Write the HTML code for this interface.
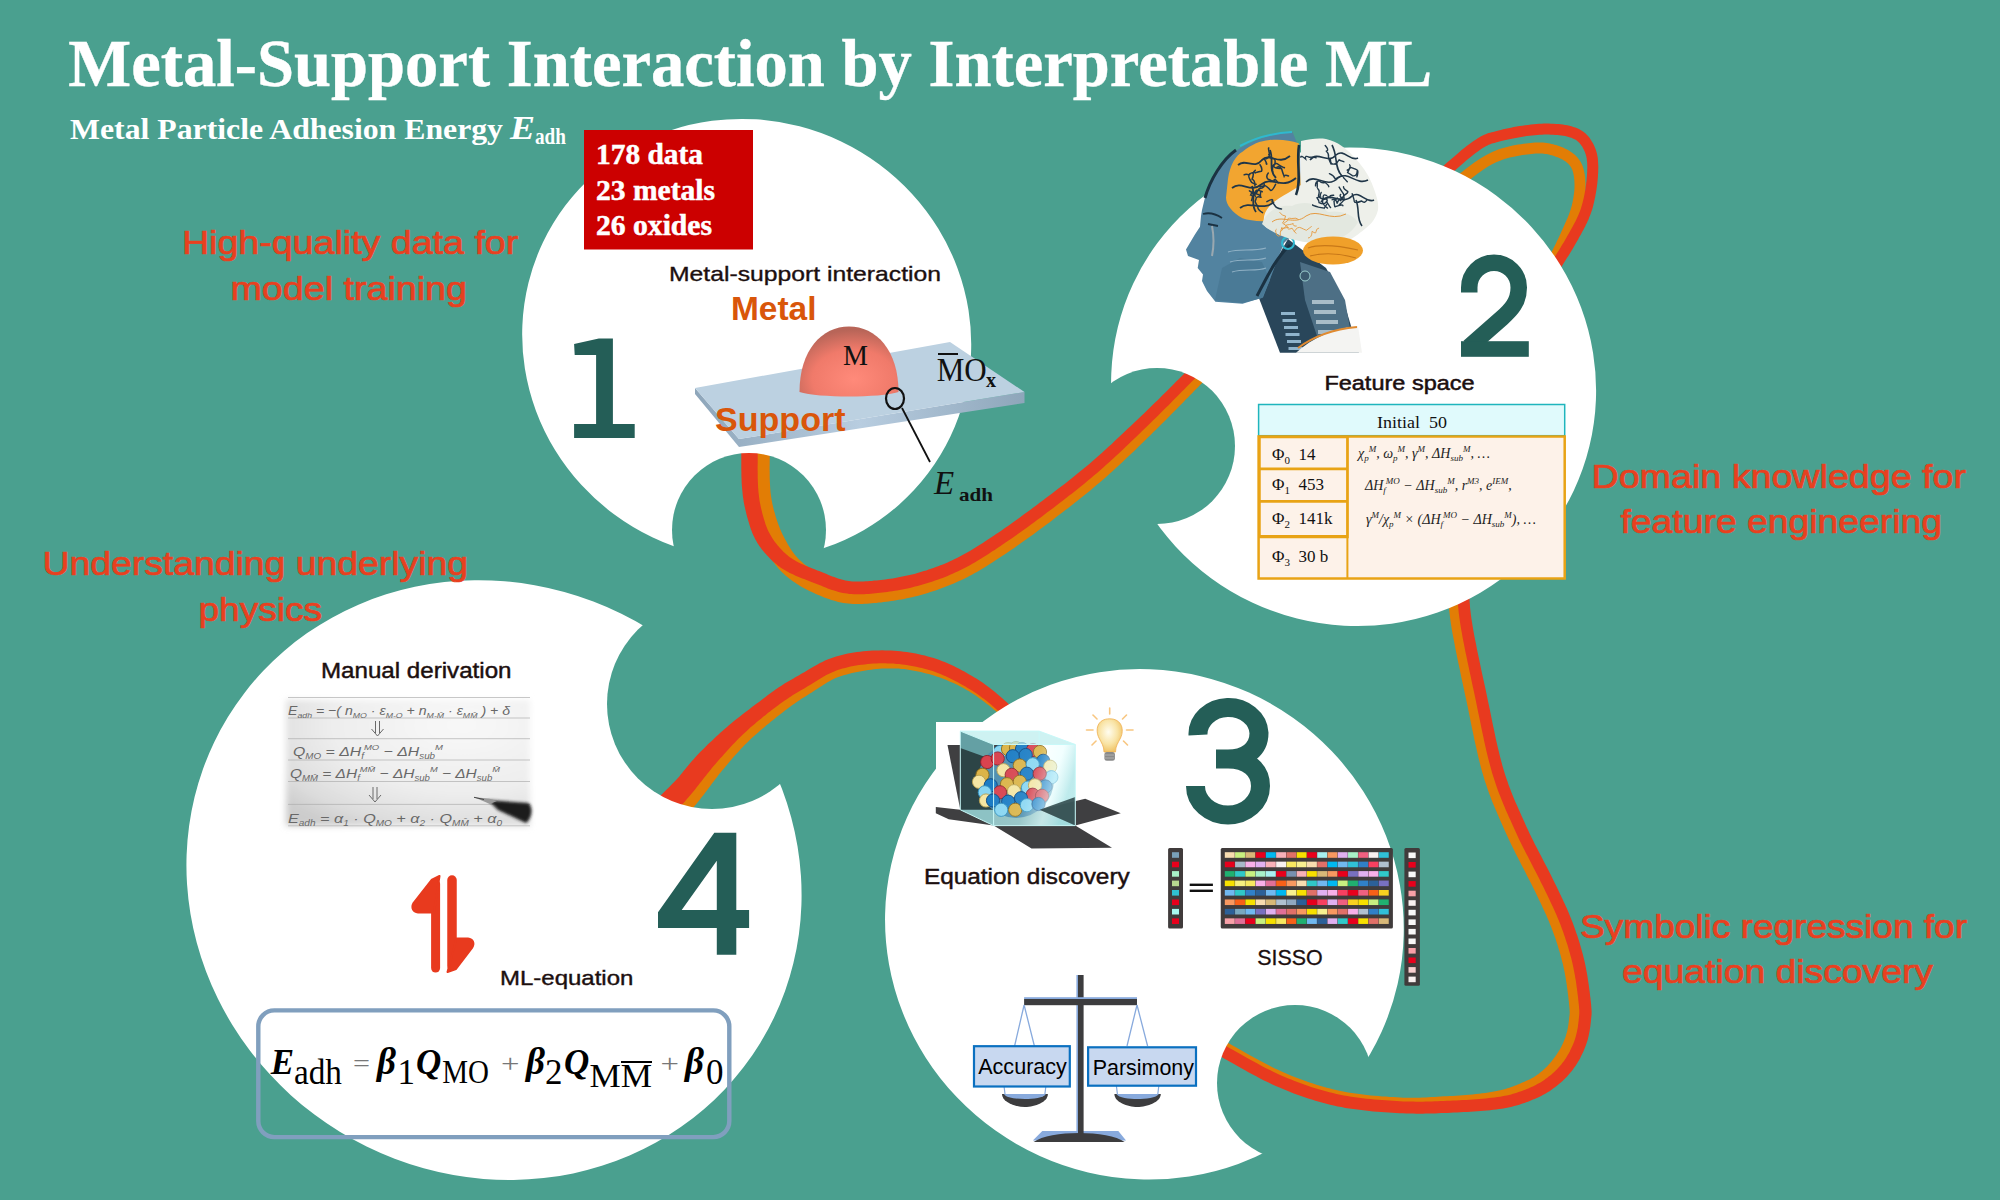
<!DOCTYPE html>
<html><head><meta charset="utf-8"><title>Metal-Support Interaction by Interpretable ML</title>
<style>
html,body{margin:0;padding:0;width:2000px;height:1200px;overflow:hidden;background:#4aa08f;}
svg{position:absolute;left:0;top:0;display:block;}
</style></head><body>
<svg width="2000" height="1200" viewBox="0 0 2000 1200">
<defs><mask id="m0" maskUnits="userSpaceOnUse" x="0" y="0" width="2000" height="1200"><ellipse cx="746.7" cy="339.4" rx="225.7" ry="219.3" transform="rotate(25.5 746.7 339.4)" fill="#fff"/><circle cx="749" cy="530" r="77" fill="#000"/></mask><mask id="m1" maskUnits="userSpaceOnUse" x="0" y="0" width="2000" height="1200"><ellipse cx="1353.6" cy="386.8" rx="243.4" ry="238.4" transform="rotate(25.2 1353.6 386.8)" fill="#fff"/><circle cx="1157" cy="446" r="78" fill="#000"/></mask><mask id="m2" maskUnits="userSpaceOnUse" x="0" y="0" width="2000" height="1200"><ellipse cx="1144.4" cy="924.3" rx="260.4" ry="254.2" transform="rotate(24.3 1144.4 924.3)" fill="#fff"/><circle cx="1295" cy="1083" r="78" fill="#000"/></mask><mask id="m3" maskUnits="userSpaceOnUse" x="0" y="0" width="2000" height="1200"><ellipse cx="494.0" cy="880.1" rx="312.1" ry="295.2" transform="rotate(31.5 494.0 880.1)" fill="#fff"/><circle cx="712" cy="704" r="105" fill="#000"/></mask></defs>
<rect x="0" y="0" width="2000" height="1200" fill="#4aa08f"/>
<path d="M769.8,440.0 L769.8,442.8 L769.8,445.8 L769.8,448.8 L769.8,451.8 L769.7,454.8 L769.7,457.8 L769.7,460.7 L769.7,463.7 L769.6,466.6 L769.6,469.4 L769.7,472.2 L769.7,474.9 L769.7,477.4 L769.8,479.9 L769.9,482.2 L770.0,484.3 L770.1,486.4 L770.2,488.3 L770.4,490.2 L770.5,491.9 L770.7,493.5 L770.9,495.0 L771.1,496.4 L771.3,497.8 L771.5,499.1 L771.7,500.4 L772.0,501.8 L772.2,503.1 L772.5,504.5 L772.9,505.9 L773.2,507.4 L773.6,509.0 L774.0,510.7 L774.5,512.3 L775.0,513.9 L775.4,515.6 L775.9,517.3 L776.5,518.9 L777.0,520.6 L777.6,522.2 L778.2,523.9 L778.8,525.5 L779.4,527.1 L780.0,528.7 L780.7,530.2 L781.3,531.7 L782.0,533.2 L782.7,534.7 L783.5,536.2 L784.3,537.7 L785.0,539.2 L785.8,540.6 L786.6,542.1 L787.4,543.5 L788.2,544.9 L789.0,546.3 L789.8,547.6 L790.7,549.0 L791.5,550.2 L792.4,551.5 L793.3,552.7 L794.2,553.9 L795.1,555.1 L796.0,556.2 L797.0,557.3 L798.1,558.4 L799.1,559.5 L800.2,560.6 L801.4,561.6 L802.5,562.6 L803.7,563.7 L805.0,564.7 L806.2,565.6 L807.6,566.6 L808.9,567.6 L810.3,568.5 L811.8,569.5 L813.3,570.4 L814.8,571.4 L816.4,572.3 L818.1,573.2 L819.9,574.2 L821.6,575.1 L823.5,576.0 L825.3,576.9 L827.2,577.8 L829.2,578.7 L831.1,579.5 L833.1,580.3 L835.0,581.0 L837.0,581.7 L838.9,582.3 L840.9,582.9 L842.8,583.4 L844.7,583.8 L846.5,584.1 L848.3,584.4 L850.2,584.6 L852.1,584.8 L854.0,584.9 L855.9,585.0 L857.8,585.0 L859.8,585.0 L861.8,585.0 L863.8,584.9 L865.8,584.8 L867.9,584.6 L870.1,584.4 L872.3,584.2 L874.5,584.0 L876.7,583.8 L879.0,583.6 L881.3,583.3 L883.6,583.0 L886.0,582.7 L888.4,582.4 L890.8,582.0 L893.2,581.6 L895.6,581.2 L898.1,580.8 L900.5,580.3 L903.0,579.9 L905.4,579.3 L907.9,578.8 L910.3,578.2 L912.8,577.6 L915.2,577.0 L917.6,576.3 L920.0,575.6 L922.4,574.9 L924.8,574.2 L927.2,573.4 L929.7,572.6 L932.1,571.8 L934.5,571.0 L936.9,570.1 L939.3,569.2 L941.7,568.2 L944.1,567.3 L946.5,566.3 L948.9,565.2 L951.3,564.2 L953.7,563.1 L956.1,561.9 L958.4,560.7 L960.8,559.5 L963.1,558.3 L965.4,557.0 L967.7,555.7 L970.0,554.4 L972.3,553.0 L974.7,551.6 L977.1,550.2 L979.5,548.7 L981.9,547.1 L984.4,545.5 L987.0,543.8 L989.6,542.1 L992.2,540.3 L995.0,538.5 L997.8,536.6 L1000.7,534.7 L1003.6,532.6 L1006.6,530.6 L1009.7,528.4 L1012.8,526.2 L1015.9,524.0 L1019.1,521.7 L1022.3,519.4 L1025.5,517.1 L1028.7,514.7 L1031.9,512.3 L1035.1,510.0 L1038.3,507.6 L1041.4,505.2 L1044.6,502.8 L1047.7,500.5 L1050.8,498.1 L1053.9,495.7 L1057.0,493.3 L1060.1,490.9 L1063.2,488.5 L1066.3,486.1 L1069.4,483.6 L1072.5,481.2 L1075.6,478.7 L1078.7,476.2 L1081.8,473.6 L1084.9,471.1 L1087.9,468.5 L1091.0,465.9 L1094.1,463.2 L1097.2,460.5 L1100.3,457.7 L1103.5,454.8 L1106.7,451.9 L1109.9,448.9 L1113.1,445.9 L1116.3,442.9 L1119.5,439.9 L1122.7,436.8 L1125.9,433.8 L1129.0,430.8 L1132.1,427.8 L1135.1,424.9 L1138.1,422.0 L1140.9,419.2 L1143.7,416.5 L1146.4,413.9 L1149.1,411.3 L1151.7,408.8 L1154.3,406.2 L1156.8,403.7 L1159.2,401.3 L1161.7,398.8 L1164.0,396.4 L1166.4,394.1 L1168.7,391.7 L1170.9,389.4 L1173.1,387.2 L1175.3,385.0 L1177.5,382.8 L1179.6,380.7 L1181.6,378.6 L1183.6,376.6 L1185.5,374.7 L1187.4,372.9 L1189.2,371.1 L1190.9,369.4 L1192.6,367.7 L1194.2,366.1 L1195.8,364.4 L1197.4,362.9 L1199.0,361.3 L1200.6,359.7 L1202.1,358.1 L1203.7,356.5 L1205.3,354.9 L1207.0,353.3 L1208.6,351.6 L1221.0,364.0 L1219.3,365.7 L1217.7,367.3 L1216.1,368.9 L1214.5,370.5 L1213.0,372.1 L1211.4,373.7 L1209.8,375.2 L1208.2,376.8 L1206.6,378.5 L1205.0,380.1 L1203.3,381.8 L1201.6,383.5 L1199.8,385.3 L1198.0,387.2 L1196.1,389.1 L1194.1,391.1 L1192.1,393.2 L1190.0,395.3 L1187.9,397.4 L1185.7,399.6 L1183.5,401.9 L1181.3,404.2 L1179.0,406.5 L1176.7,408.9 L1174.3,411.3 L1171.8,413.8 L1169.4,416.3 L1166.8,418.9 L1164.2,421.5 L1161.6,424.1 L1158.9,426.7 L1156.2,429.4 L1153.4,432.1 L1150.6,434.9 L1147.6,437.8 L1144.6,440.8 L1141.5,443.8 L1138.4,446.8 L1135.2,449.9 L1132.0,453.0 L1128.8,456.1 L1125.5,459.1 L1122.3,462.2 L1119.0,465.3 L1115.7,468.3 L1112.5,471.2 L1109.3,474.1 L1106.1,477.0 L1102.9,479.7 L1099.7,482.4 L1096.6,485.1 L1093.4,487.8 L1090.3,490.4 L1087.1,493.0 L1084.0,495.5 L1080.8,498.0 L1077.7,500.5 L1074.5,503.0 L1071.4,505.5 L1068.3,507.9 L1065.1,510.3 L1062.0,512.7 L1058.9,515.1 L1055.7,517.5 L1052.6,519.9 L1049.4,522.4 L1046.2,524.8 L1042.9,527.2 L1039.7,529.6 L1036.4,532.0 L1033.2,534.4 L1029.9,536.7 L1026.7,539.0 L1023.5,541.3 L1020.4,543.5 L1017.2,545.7 L1014.2,547.9 L1011.1,550.0 L1008.2,552.0 L1005.3,553.9 L1002.5,555.8 L999.8,557.6 L997.1,559.3 L994.5,561.1 L991.9,562.7 L989.4,564.3 L986.8,565.9 L984.4,567.5 L981.9,569.0 L979.4,570.5 L976.9,571.9 L974.4,573.3 L971.9,574.7 L969.4,576.0 L966.8,577.4 L964.2,578.7 L961.6,579.9 L959.0,581.1 L956.4,582.3 L953.8,583.5 L951.2,584.6 L948.6,585.6 L946.0,586.6 L943.4,587.6 L940.8,588.6 L938.2,589.5 L935.6,590.4 L933.0,591.3 L930.4,592.1 L927.8,592.9 L925.2,593.7 L922.6,594.4 L920.0,595.2 L917.4,595.9 L914.7,596.5 L912.1,597.2 L909.4,597.8 L906.8,598.3 L904.1,598.9 L901.5,599.4 L898.8,599.8 L896.2,600.3 L893.6,600.7 L891.1,601.1 L888.5,601.5 L886.0,601.8 L883.5,602.1 L881.1,602.4 L878.7,602.6 L876.4,602.9 L874.0,603.1 L871.7,603.3 L869.4,603.5 L867.1,603.7 L864.7,603.8 L862.4,603.9 L860.1,604.0 L857.7,604.0 L855.3,604.0 L853.0,603.9 L850.6,603.7 L848.2,603.5 L845.8,603.2 L843.3,602.9 L840.9,602.4 L838.4,601.9 L836.0,601.3 L833.6,600.6 L831.2,599.9 L828.9,599.1 L826.5,598.3 L824.2,597.4 L822.0,596.6 L819.8,595.6 L817.6,594.7 L815.4,593.8 L813.4,592.8 L811.3,591.8 L809.4,590.9 L807.5,589.9 L805.6,588.9 L803.7,587.9 L801.9,586.9 L800.1,585.9 L798.3,584.8 L796.6,583.7 L794.9,582.6 L793.2,581.4 L791.5,580.3 L789.9,579.0 L788.3,577.8 L786.8,576.5 L785.2,575.2 L783.7,573.8 L782.3,572.4 L780.8,571.0 L779.4,569.5 L778.0,567.9 L776.7,566.3 L775.4,564.7 L774.2,563.1 L773.0,561.5 L771.8,559.8 L770.7,558.1 L769.7,556.4 L768.6,554.7 L767.6,553.0 L766.7,551.3 L765.7,549.6 L764.8,547.9 L763.9,546.2 L763.0,544.4 L762.2,542.7 L761.3,540.8 L760.5,539.0 L759.7,537.1 L758.9,535.2 L758.2,533.3 L757.5,531.4 L756.8,529.5 L756.2,527.6 L755.5,525.7 L754.9,523.8 L754.4,521.9 L753.8,520.0 L753.3,518.1 L752.8,516.3 L752.3,514.5 L751.9,512.7 L751.5,511.0 L751.1,509.3 L750.7,507.7 L750.4,506.0 L750.1,504.4 L749.8,502.7 L749.5,501.1 L749.3,499.3 L749.0,497.6 L748.8,495.8 L748.6,493.9 L748.5,492.0 L748.3,490.0 L748.2,487.8 L748.0,485.6 L747.9,483.1 L747.8,480.5 L747.7,477.9 L747.7,475.1 L747.7,472.3 L747.6,469.5 L747.6,466.5 L747.7,463.6 L747.7,460.6 L747.7,457.6 L747.7,454.6 L747.8,451.6 L747.8,448.6 L747.8,445.7 L747.8,442.8 L747.8,440.0 Z" fill="#e27d05"/>
<path d="M757.8,440.0 L757.8,442.8 L757.8,445.7 L757.8,448.7 L757.8,451.7 L757.7,454.7 L757.7,457.7 L757.7,460.7 L757.7,463.6 L757.6,466.6 L757.6,469.4 L757.7,472.3 L757.7,475.0 L757.7,477.7 L757.8,480.2 L757.9,482.7 L758.0,485.0 L758.1,487.2 L758.3,489.2 L758.4,491.2 L758.6,493.0 L758.8,494.7 L759.0,496.4 L759.2,498.0 L759.4,499.6 L759.6,501.1 L759.9,502.6 L760.2,504.1 L760.5,505.6 L760.8,507.1 L761.2,508.7 L761.6,510.3 L762.0,512.0 L762.4,513.7 L762.9,515.5 L763.4,517.2 L763.9,519.0 L764.5,520.8 L765.0,522.6 L765.6,524.4 L766.3,526.2 L767.0,527.9 L767.7,529.7 L768.5,531.4 L769.4,533.1 L770.3,534.7 L771.2,536.3 L772.2,537.9 L773.2,539.4 L774.2,540.9 L775.3,542.4 L776.4,543.8 L777.5,545.3 L778.7,546.6 L779.9,548.0 L781.1,549.3 L782.3,550.6 L783.6,551.9 L784.9,553.1 L786.2,554.2 L787.5,555.3 L788.8,556.4 L790.2,557.4 L791.5,558.3 L792.9,559.2 L794.3,560.1 L795.8,560.9 L797.2,561.7 L798.6,562.4 L800.1,563.2 L801.6,563.9 L803.1,564.6 L804.6,565.2 L806.1,565.9 L807.6,566.5 L809.2,567.2 L810.8,567.8 L812.4,568.4 L814.0,569.1 L815.7,569.7 L817.4,570.4 L819.2,571.1 L821.0,571.8 L822.8,572.6 L824.7,573.3 L826.6,574.1 L828.5,574.9 L830.4,575.7 L832.3,576.4 L834.2,577.1 L836.1,577.8 L838.0,578.4 L839.9,579.0 L841.7,579.5 L843.6,580.0 L845.3,580.4 L847.1,580.7 L848.8,581.0 L850.6,581.2 L852.3,581.4 L854.1,581.5 L856.0,581.5 L857.8,581.6 L859.7,581.6 L861.6,581.5 L863.6,581.5 L865.6,581.3 L867.7,581.2 L869.8,581.0 L871.9,580.9 L874.1,580.6 L876.4,580.4 L878.7,580.2 L880.9,579.9 L883.2,579.7 L885.5,579.4 L887.9,579.1 L890.3,578.7 L892.7,578.4 L895.1,578.0 L897.5,577.5 L899.9,577.1 L902.3,576.6 L904.7,576.1 L907.2,575.6 L909.6,575.0 L912.0,574.5 L914.3,573.9 L916.7,573.2 L919.1,572.5 L921.5,571.8 L923.9,571.1 L926.3,570.4 L928.6,569.6 L931.0,568.8 L933.4,568.0 L935.8,567.1 L938.1,566.2 L940.5,565.3 L942.9,564.4 L945.2,563.4 L947.6,562.4 L950.0,561.3 L952.3,560.2 L954.7,559.1 L957.0,558.0 L959.3,556.8 L961.6,555.6 L963.9,554.3 L966.2,553.1 L968.5,551.8 L970.8,550.4 L973.1,549.0 L975.5,547.6 L977.8,546.1 L980.3,544.6 L982.8,543.0 L985.3,541.3 L987.9,539.6 L990.6,537.8 L993.3,536.0 L996.1,534.1 L999.0,532.2 L1001.9,530.2 L1004.9,528.1 L1008.0,526.0 L1011.1,523.8 L1014.2,521.5 L1017.4,519.3 L1020.5,517.0 L1023.7,514.6 L1026.9,512.3 L1030.1,509.9 L1033.3,507.6 L1036.5,505.2 L1039.6,502.8 L1042.8,500.5 L1045.9,498.1 L1049.0,495.8 L1052.1,493.4 L1055.2,491.0 L1058.4,488.6 L1061.5,486.3 L1064.6,483.9 L1067.7,481.4 L1070.8,479.0 L1073.9,476.5 L1076.9,474.1 L1080.0,471.6 L1083.1,469.0 L1086.2,466.5 L1089.3,463.9 L1092.4,461.2 L1095.5,458.6 L1098.6,455.8 L1101.8,453.0 L1105.0,450.1 L1108.2,447.1 L1111.5,444.2 L1114.7,441.1 L1117.9,438.1 L1121.1,435.1 L1124.3,432.1 L1127.4,429.1 L1130.5,426.2 L1133.6,423.3 L1136.5,420.5 L1139.4,417.7 L1142.3,415.0 L1145.0,412.4 L1147.7,409.8 L1150.3,407.3 L1152.8,404.8 L1155.4,402.3 L1157.9,399.9 L1160.3,397.5 L1162.7,395.1 L1165.1,392.7 L1167.4,390.4 L1169.6,388.2 L1171.9,385.9 L1174.1,383.8 L1176.2,381.6 L1178.4,379.5 L1180.4,377.4 L1182.4,375.5 L1184.4,373.6 L1186.2,371.7 L1188.0,370.0 L1189.8,368.3 L1191.5,366.6 L1193.1,365.0 L1194.7,363.4 L1196.3,361.8 L1197.9,360.2 L1199.5,358.6 L1201.1,357.1 L1202.7,355.5 L1204.3,353.9 L1205.9,352.2 L1207.6,350.6 L1215.2,358.2 L1213.5,359.9 L1211.9,361.5 L1210.3,363.1 L1208.7,364.7 L1207.1,366.3 L1205.6,367.9 L1204.0,369.4 L1202.4,371.0 L1200.8,372.6 L1199.1,374.3 L1197.5,376.0 L1195.7,377.7 L1194.0,379.5 L1192.1,381.3 L1190.2,383.2 L1188.2,385.2 L1186.2,387.3 L1184.1,389.4 L1181.9,391.5 L1179.8,393.7 L1177.6,396.0 L1175.3,398.3 L1173.0,400.6 L1170.7,403.0 L1168.3,405.4 L1165.8,407.8 L1163.3,410.3 L1160.8,412.8 L1158.2,415.4 L1155.6,418.0 L1152.9,420.6 L1150.2,423.2 L1147.4,425.9 L1144.5,428.7 L1141.6,431.6 L1138.6,434.5 L1135.5,437.5 L1132.3,440.5 L1129.2,443.5 L1126.0,446.6 L1122.7,449.7 L1119.5,452.7 L1116.2,455.7 L1113.0,458.8 L1109.7,461.7 L1106.5,464.6 L1103.3,467.5 L1100.2,470.2 L1097.1,472.9 L1093.9,475.6 L1090.8,478.2 L1087.7,480.8 L1084.6,483.4 L1081.4,485.9 L1078.3,488.4 L1075.2,490.9 L1072.1,493.4 L1068.9,495.8 L1065.8,498.3 L1062.7,500.7 L1059.6,503.1 L1056.4,505.5 L1053.3,507.9 L1050.2,510.2 L1047.0,512.6 L1043.9,515.0 L1040.7,517.4 L1037.4,519.8 L1034.2,522.2 L1031.0,524.6 L1027.8,526.9 L1024.6,529.2 L1021.4,531.5 L1018.2,533.8 L1015.1,536.0 L1012.0,538.2 L1008.9,540.3 L1005.9,542.3 L1003.0,544.3 L1000.2,546.2 L997.4,548.1 L994.7,549.9 L992.0,551.6 L989.5,553.3 L986.9,554.9 L984.4,556.5 L982.0,558.1 L979.5,559.6 L977.1,561.0 L974.7,562.4 L972.3,563.8 L969.9,565.2 L967.5,566.5 L965.1,567.8 L962.6,569.0 L960.1,570.3 L957.6,571.5 L955.1,572.6 L952.6,573.8 L950.1,574.8 L947.6,575.9 L945.1,576.9 L942.6,577.9 L940.1,578.8 L937.6,579.7 L935.1,580.6 L932.6,581.5 L930.1,582.3 L927.6,583.1 L925.1,583.8 L922.6,584.6 L920.1,585.3 L917.6,586.0 L915.0,586.6 L912.5,587.3 L909.9,587.9 L907.4,588.4 L904.8,589.0 L902.3,589.5 L899.7,590.0 L897.2,590.4 L894.7,590.8 L892.2,591.2 L889.7,591.6 L887.2,591.9 L884.8,592.2 L882.4,592.5 L880.0,592.8 L877.7,593.0 L875.4,593.3 L873.1,593.5 L870.9,593.7 L868.6,593.9 L866.4,594.0 L864.2,594.2 L862.1,594.3 L859.9,594.3 L857.8,594.3 L855.6,594.3 L853.5,594.2 L851.3,594.1 L849.2,593.9 L847.1,593.6 L844.9,593.3 L842.8,592.9 L840.6,592.4 L838.5,591.9 L836.3,591.3 L834.1,590.6 L832.0,589.9 L829.8,589.2 L827.7,588.4 L825.6,587.5 L823.5,586.7 L821.4,585.8 L819.4,585.0 L817.4,584.2 L815.4,583.4 L813.4,582.7 L811.5,581.9 L809.6,581.2 L807.8,580.5 L805.9,579.8 L804.1,579.1 L802.3,578.4 L800.5,577.7 L798.7,576.9 L796.9,576.2 L795.1,575.4 L793.3,574.6 L791.6,573.8 L789.8,572.9 L788.1,572.0 L786.3,571.0 L784.6,570.0 L782.9,569.0 L781.2,567.9 L779.5,566.7 L777.8,565.4 L776.2,564.1 L774.6,562.8 L773.0,561.4 L771.5,560.0 L770.0,558.6 L768.6,557.1 L767.1,555.6 L765.8,554.1 L764.4,552.5 L763.2,551.0 L761.9,549.4 L760.7,547.8 L759.5,546.2 L758.4,544.5 L757.2,542.7 L756.2,540.8 L755.1,539.0 L754.2,537.1 L753.3,535.2 L752.4,533.2 L751.7,531.3 L750.9,529.3 L750.3,527.4 L749.7,525.4 L749.1,523.5 L748.5,521.5 L747.9,519.6 L747.4,517.7 L746.9,515.9 L746.4,514.0 L746.0,512.3 L745.6,510.6 L745.2,508.9 L744.8,507.1 L744.4,505.4 L744.1,503.7 L743.7,501.9 L743.5,500.1 L743.2,498.3 L742.9,496.4 L742.7,494.5 L742.5,492.5 L742.3,490.4 L742.1,488.2 L741.9,485.9 L741.7,483.4 L741.6,480.7 L741.5,478.0 L741.4,475.2 L741.4,472.4 L741.3,469.5 L741.3,466.5 L741.3,463.5 L741.3,460.5 L741.3,457.5 L741.3,454.5 L741.3,451.5 L741.3,448.6 L741.3,445.7 L741.3,442.8 L741.3,440.0 Z" fill="#e83a1f"/>
<path d="M1448.3,196.4 L1451.2,194.3 L1454.2,192.0 L1457.2,189.7 L1460.2,187.3 L1463.2,185.0 L1466.1,182.6 L1469.1,180.3 L1472.0,178.0 L1474.9,175.8 L1477.8,173.6 L1480.7,171.6 L1483.5,169.6 L1486.2,167.8 L1488.9,166.1 L1491.6,164.6 L1494.1,163.2 L1496.7,162.0 L1499.3,160.9 L1501.9,159.9 L1504.5,159.1 L1507.2,158.3 L1509.8,157.6 L1512.4,156.9 L1515.0,156.4 L1517.5,155.9 L1520.0,155.5 L1522.5,155.1 L1524.9,154.8 L1527.2,154.5 L1529.5,154.2 L1531.7,154.0 L1533.8,153.8 L1535.7,153.6 L1537.5,153.5 L1539.2,153.5 L1540.7,153.5 L1542.3,153.6 L1543.7,153.7 L1545.1,153.9 L1546.4,154.1 L1547.7,154.3 L1549.0,154.6 L1550.3,154.9 L1551.5,155.2 L1552.7,155.6 L1554.0,156.0 L1555.2,156.4 L1556.4,156.9 L1557.6,157.3 L1558.7,157.8 L1559.8,158.3 L1560.9,158.8 L1561.9,159.3 L1562.9,159.8 L1563.9,160.4 L1564.8,161.0 L1565.7,161.6 L1566.5,162.3 L1567.3,162.9 L1568.0,163.6 L1568.7,164.3 L1569.4,165.0 L1569.9,165.7 L1570.5,166.4 L1570.9,167.1 L1571.4,167.9 L1571.8,168.8 L1572.2,169.6 L1572.5,170.6 L1572.8,171.6 L1573.1,172.6 L1573.4,173.7 L1573.6,174.8 L1573.8,175.9 L1574.0,177.1 L1574.1,178.4 L1574.3,179.6 L1574.4,180.9 L1574.4,182.2 L1574.5,183.5 L1574.5,184.8 L1574.5,186.1 L1574.5,187.5 L1574.4,188.9 L1574.3,190.3 L1574.2,191.8 L1574.0,193.2 L1573.8,194.7 L1573.6,196.3 L1573.4,197.8 L1573.1,199.3 L1572.8,200.8 L1572.5,202.4 L1572.1,203.9 L1571.8,205.4 L1571.4,206.9 L1571.0,208.3 L1570.6,209.7 L1570.1,211.1 L1569.6,212.5 L1569.1,213.9 L1568.6,215.2 L1568.1,216.6 L1567.5,218.1 L1566.8,219.5 L1566.2,221.0 L1565.5,222.5 L1564.8,224.1 L1564.1,225.7 L1563.3,227.4 L1562.5,229.2 L1561.7,231.0 L1560.8,232.9 L1559.9,234.9 L1559.0,236.9 L1558.0,238.9 L1557.0,241.0 L1556.0,243.2 L1554.9,245.4 L1553.8,247.6 L1552.7,249.9 L1551.6,252.1 L1550.5,254.4 L1549.4,256.7 L1548.3,258.9 L1547.2,261.2 L1546.1,263.4 L1545.0,265.6 L1555.0,270.4 L1556.0,268.2 L1557.1,266.0 L1558.2,263.8 L1559.3,261.5 L1560.4,259.3 L1561.5,257.0 L1562.6,254.7 L1563.7,252.5 L1564.8,250.2 L1565.9,248.0 L1566.9,245.8 L1568.0,243.7 L1569.0,241.5 L1569.9,239.5 L1570.8,237.5 L1571.7,235.6 L1572.5,233.7 L1573.3,232.0 L1574.1,230.3 L1574.8,228.6 L1575.6,227.0 L1576.3,225.4 L1577.0,223.9 L1577.6,222.3 L1578.2,220.8 L1578.9,219.3 L1579.4,217.7 L1580.0,216.2 L1580.6,214.6 L1581.1,213.0 L1581.6,211.4 L1582.0,209.7 L1582.4,208.1 L1582.8,206.4 L1583.2,204.7 L1583.6,203.0 L1583.9,201.3 L1584.2,199.6 L1584.5,197.9 L1584.7,196.2 L1585.0,194.5 L1585.1,192.9 L1585.3,191.2 L1585.4,189.5 L1585.5,187.9 L1585.5,186.3 L1585.5,184.7 L1585.5,183.1 L1585.4,181.6 L1585.3,180.1 L1585.2,178.6 L1585.1,177.1 L1584.9,175.7 L1584.7,174.2 L1584.4,172.7 L1584.1,171.3 L1583.8,169.8 L1583.4,168.4 L1582.9,166.9 L1582.4,165.5 L1581.8,164.2 L1581.1,162.8 L1580.4,161.5 L1579.5,160.2 L1578.6,159.0 L1577.7,157.8 L1576.7,156.7 L1575.6,155.6 L1574.5,154.6 L1573.4,153.7 L1572.2,152.8 L1571.0,151.9 L1569.7,151.1 L1568.4,150.3 L1567.1,149.6 L1565.8,148.9 L1564.4,148.2 L1563.0,147.6 L1561.6,147.1 L1560.2,146.5 L1558.8,146.0 L1557.4,145.6 L1556.0,145.1 L1554.5,144.7 L1553.1,144.3 L1551.5,143.9 L1549.9,143.5 L1548.3,143.2 L1546.6,143.0 L1544.8,142.8 L1543.0,142.6 L1541.1,142.5 L1539.1,142.5 L1537.1,142.5 L1535.0,142.6 L1532.8,142.8 L1530.6,143.0 L1528.3,143.3 L1526.0,143.5 L1523.5,143.8 L1520.9,144.2 L1518.3,144.6 L1515.5,145.1 L1512.8,145.6 L1509.9,146.2 L1507.0,146.9 L1504.1,147.7 L1501.2,148.6 L1498.2,149.6 L1495.2,150.7 L1492.2,152.0 L1489.3,153.4 L1486.3,154.9 L1483.3,156.7 L1480.3,158.5 L1477.3,160.5 L1474.3,162.6 L1471.3,164.8 L1468.3,167.0 L1465.3,169.3 L1462.3,171.7 L1459.3,174.0 L1456.4,176.4 L1453.4,178.7 L1450.5,181.0 L1447.5,183.3 L1444.6,185.4 L1441.7,187.6 Z" fill="#e27d05"/>
<path d="M1433.6,189.2 L1436.4,186.7 L1439.4,184.2 L1442.4,181.6 L1445.4,178.9 L1448.4,176.2 L1451.4,173.6 L1454.4,170.9 L1457.4,168.3 L1460.3,165.7 L1463.2,163.2 L1466.0,160.8 L1468.7,158.6 L1471.3,156.5 L1473.7,154.5 L1476.0,152.8 L1478.2,151.2 L1480.2,149.8 L1482.0,148.6 L1483.6,147.6 L1485.0,146.7 L1486.3,146.0 L1487.5,145.4 L1488.6,144.8 L1489.7,144.4 L1490.8,144.0 L1491.9,143.6 L1493.1,143.3 L1494.5,142.9 L1495.9,142.5 L1497.6,142.1 L1499.4,141.6 L1501.4,141.1 L1503.5,140.6 L1505.7,140.1 L1508.1,139.5 L1510.6,139.0 L1513.1,138.5 L1515.8,137.9 L1518.5,137.5 L1521.2,137.0 L1524.0,136.6 L1526.7,136.1 L1529.4,135.8 L1532.1,135.5 L1534.7,135.2 L1537.2,135.0 L1539.6,134.8 L1541.9,134.7 L1544.1,134.6 L1546.4,134.6 L1548.7,134.6 L1550.9,134.7 L1553.1,134.8 L1555.2,134.9 L1557.3,135.1 L1559.4,135.3 L1561.4,135.5 L1563.3,135.8 L1565.2,136.1 L1566.9,136.5 L1568.6,136.9 L1570.1,137.4 L1571.5,137.8 L1572.8,138.4 L1574.0,138.9 L1575.1,139.5 L1576.1,140.1 L1577.0,140.8 L1577.9,141.5 L1578.7,142.2 L1579.5,143.0 L1580.2,143.9 L1580.9,144.7 L1581.5,145.7 L1582.2,146.6 L1582.8,147.7 L1583.3,148.7 L1583.9,149.8 L1584.4,151.0 L1584.9,152.1 L1585.3,153.2 L1585.7,154.3 L1586.0,155.4 L1586.3,156.6 L1586.6,157.9 L1586.8,159.2 L1586.9,160.5 L1587.1,161.9 L1587.2,163.3 L1587.2,164.8 L1587.3,166.3 L1587.3,167.9 L1587.2,169.6 L1587.2,171.2 L1587.1,172.9 L1587.0,174.7 L1586.9,176.5 L1586.7,178.3 L1586.6,180.2 L1586.3,182.2 L1586.1,184.3 L1585.8,186.3 L1585.5,188.4 L1585.2,190.5 L1584.8,192.6 L1584.4,194.7 L1584.0,196.8 L1583.5,198.9 L1583.0,200.9 L1582.5,202.9 L1582.0,204.8 L1581.4,206.7 L1580.9,208.4 L1580.3,210.2 L1579.7,211.8 L1579.0,213.4 L1578.4,215.0 L1577.7,216.6 L1576.9,218.2 L1576.2,219.8 L1575.4,221.4 L1574.5,223.0 L1573.6,224.7 L1572.7,226.4 L1571.7,228.2 L1570.7,230.1 L1569.6,232.0 L1568.5,234.0 L1567.3,236.1 L1566.1,238.3 L1564.8,240.5 L1563.5,242.8 L1562.0,245.1 L1560.6,247.5 L1559.1,249.9 L1557.6,252.3 L1556.1,254.8 L1554.5,257.3 L1552.9,259.8 L1551.4,262.3 L1549.8,264.8 L1548.3,267.3 L1546.8,269.7 L1545.3,272.1 L1554.7,277.9 L1556.2,275.5 L1557.7,273.0 L1559.2,270.6 L1560.7,268.1 L1562.3,265.6 L1563.8,263.1 L1565.4,260.6 L1566.9,258.1 L1568.5,255.7 L1570.0,253.2 L1571.5,250.8 L1572.9,248.4 L1574.3,246.1 L1575.6,243.8 L1576.9,241.5 L1578.1,239.4 L1579.2,237.3 L1580.3,235.4 L1581.4,233.5 L1582.4,231.6 L1583.3,229.9 L1584.3,228.1 L1585.2,226.4 L1586.0,224.6 L1586.9,222.9 L1587.7,221.1 L1588.5,219.4 L1589.2,217.6 L1589.9,215.8 L1590.6,213.9 L1591.3,211.9 L1592.0,209.9 L1592.6,207.9 L1593.2,205.7 L1593.7,203.6 L1594.2,201.4 L1594.7,199.1 L1595.2,196.9 L1595.6,194.6 L1596.0,192.4 L1596.4,190.1 L1596.7,187.9 L1597.0,185.7 L1597.3,183.5 L1597.5,181.4 L1597.7,179.3 L1597.9,177.3 L1598.0,175.3 L1598.1,173.5 L1598.2,171.6 L1598.2,169.8 L1598.3,168.0 L1598.3,166.2 L1598.2,164.5 L1598.1,162.7 L1598.0,161.0 L1597.9,159.3 L1597.7,157.6 L1597.4,156.0 L1597.1,154.3 L1596.7,152.7 L1596.2,151.0 L1595.7,149.4 L1595.1,147.9 L1594.5,146.5 L1593.8,145.0 L1593.1,143.6 L1592.3,142.2 L1591.5,140.9 L1590.6,139.5 L1589.7,138.1 L1588.7,136.8 L1587.5,135.6 L1586.3,134.3 L1585.0,133.1 L1583.7,132.0 L1582.2,131.0 L1580.6,130.0 L1578.9,129.1 L1577.2,128.2 L1575.3,127.5 L1573.4,126.9 L1571.4,126.3 L1569.4,125.8 L1567.3,125.3 L1565.1,124.9 L1562.9,124.6 L1560.6,124.3 L1558.3,124.1 L1556.0,123.9 L1553.6,123.8 L1551.2,123.7 L1548.8,123.6 L1546.4,123.6 L1543.9,123.6 L1541.5,123.7 L1539.0,123.8 L1536.3,124.0 L1533.6,124.2 L1530.9,124.5 L1528.0,124.9 L1525.2,125.3 L1522.3,125.7 L1519.4,126.1 L1516.6,126.6 L1513.8,127.1 L1511.0,127.7 L1508.3,128.2 L1505.7,128.8 L1503.2,129.3 L1500.8,129.9 L1498.6,130.5 L1496.7,131.0 L1494.9,131.4 L1493.2,131.9 L1491.6,132.3 L1490.1,132.7 L1488.6,133.1 L1487.2,133.6 L1485.7,134.2 L1484.2,134.8 L1482.7,135.5 L1481.1,136.3 L1479.5,137.2 L1477.8,138.2 L1476.0,139.4 L1474.0,140.7 L1471.8,142.2 L1469.5,143.9 L1467.0,145.8 L1464.3,147.9 L1461.6,150.1 L1458.9,152.4 L1456.0,154.9 L1453.1,157.4 L1450.1,160.0 L1447.1,162.6 L1444.1,165.3 L1441.1,168.0 L1438.1,170.7 L1435.1,173.3 L1432.1,175.9 L1429.3,178.4 L1426.4,180.8 Z" fill="#e83a1f"/>
<path d="M1447.5,570.5 L1447.7,573.5 L1447.8,576.4 L1447.9,579.3 L1448.0,582.1 L1448.0,584.9 L1448.1,587.8 L1448.2,590.7 L1448.2,593.6 L1448.3,596.7 L1448.5,599.8 L1448.7,603.0 L1448.9,606.4 L1449.2,609.9 L1449.6,613.5 L1450.0,617.3 L1450.6,621.4 L1451.2,625.5 L1451.9,629.9 L1452.7,634.4 L1453.6,639.0 L1454.5,643.8 L1455.4,648.7 L1456.4,653.6 L1457.4,658.6 L1458.5,663.7 L1459.6,668.7 L1460.6,673.8 L1461.7,678.9 L1462.8,683.9 L1463.9,688.9 L1464.9,693.9 L1466.0,698.7 L1467.0,703.5 L1468.0,708.3 L1469.0,713.3 L1470.0,718.2 L1471.0,723.2 L1472.0,728.2 L1473.1,733.2 L1474.1,738.2 L1475.2,743.2 L1476.3,748.1 L1477.4,753.0 L1478.5,757.8 L1479.7,762.6 L1480.9,767.2 L1482.1,771.7 L1483.4,776.1 L1484.7,780.4 L1486.1,784.5 L1487.4,788.5 L1488.8,792.4 L1490.2,796.2 L1491.6,799.9 L1493.0,803.5 L1494.5,807.1 L1496.0,810.6 L1497.5,814.1 L1499.0,817.5 L1500.5,821.0 L1502.1,824.4 L1503.6,827.9 L1505.2,831.4 L1506.8,835.0 L1508.5,838.7 L1510.3,842.5 L1512.1,846.3 L1514.0,850.1 L1515.9,854.0 L1517.9,857.8 L1519.8,861.6 L1521.8,865.4 L1523.7,869.1 L1525.6,872.8 L1527.4,876.4 L1529.3,879.9 L1531.0,883.3 L1532.6,886.6 L1534.2,889.7 L1535.7,892.7 L1537.0,895.6 L1538.4,898.4 L1539.6,901.1 L1540.9,903.6 L1542.0,906.1 L1543.1,908.4 L1544.2,910.7 L1545.2,912.9 L1546.2,915.1 L1547.1,917.3 L1548.1,919.4 L1549.0,921.5 L1549.8,923.7 L1550.7,925.8 L1551.6,928.1 L1552.4,930.3 L1553.3,932.7 L1554.1,935.0 L1555.0,937.3 L1555.8,939.6 L1556.5,942.0 L1557.3,944.3 L1558.0,946.6 L1558.7,948.9 L1559.4,951.2 L1560.1,953.5 L1560.7,955.8 L1561.3,958.1 L1561.9,960.5 L1562.5,962.8 L1563.1,965.1 L1563.6,967.4 L1564.1,969.7 L1564.6,972.0 L1565.0,974.5 L1565.5,977.0 L1565.9,979.5 L1566.3,982.1 L1566.7,984.6 L1567.0,987.1 L1567.4,989.6 L1567.7,992.1 L1568.0,994.4 L1568.3,996.7 L1568.5,998.9 L1568.8,1001.0 L1569.0,1002.9 L1569.1,1004.6 L1569.3,1006.2 L1569.4,1007.6 L1569.5,1008.8 L1569.6,1009.8 L1569.6,1010.7 L1569.7,1011.5 L1569.7,1012.2 L1569.7,1012.8 L1569.7,1013.4 L1569.6,1013.9 L1569.6,1014.5 L1569.5,1015.2 L1569.4,1016.0 L1569.3,1016.8 L1569.2,1017.8 L1569.1,1018.9 L1569.0,1020.0 L1568.8,1021.1 L1568.7,1022.3 L1568.5,1023.4 L1568.4,1024.5 L1568.2,1025.7 L1568.0,1026.8 L1567.8,1028.0 L1567.6,1029.1 L1567.4,1030.2 L1567.1,1031.4 L1566.8,1032.5 L1566.5,1033.6 L1566.2,1034.6 L1565.9,1035.7 L1565.6,1036.7 L1565.2,1037.8 L1564.7,1038.9 L1564.3,1040.1 L1563.8,1041.2 L1563.3,1042.4 L1562.8,1043.5 L1562.3,1044.7 L1561.7,1045.8 L1561.2,1047.0 L1560.6,1048.1 L1560.0,1049.2 L1559.3,1050.3 L1558.7,1051.3 L1558.1,1052.3 L1557.4,1053.3 L1556.8,1054.3 L1556.1,1055.3 L1555.4,1056.2 L1554.7,1057.2 L1554.0,1058.1 L1553.3,1059.1 L1552.6,1060.0 L1551.8,1061.0 L1551.1,1061.9 L1550.3,1062.8 L1549.5,1063.7 L1548.7,1064.6 L1547.9,1065.5 L1547.0,1066.4 L1546.2,1067.3 L1545.3,1068.1 L1544.4,1069.0 L1543.4,1069.8 L1542.5,1070.7 L1541.5,1071.5 L1540.6,1072.3 L1539.6,1073.1 L1538.6,1073.9 L1537.6,1074.6 L1536.6,1075.3 L1535.5,1076.1 L1534.4,1076.8 L1533.3,1077.4 L1532.1,1078.1 L1530.9,1078.8 L1529.6,1079.4 L1528.3,1080.0 L1526.9,1080.6 L1525.4,1081.3 L1523.9,1081.9 L1522.3,1082.6 L1520.8,1083.2 L1519.3,1083.9 L1517.8,1084.5 L1516.2,1085.2 L1514.6,1085.8 L1512.9,1086.5 L1511.2,1087.1 L1509.4,1087.7 L1507.5,1088.3 L1505.5,1088.9 L1503.4,1089.5 L1501.3,1090.0 L1499.0,1090.6 L1496.5,1091.1 L1493.9,1091.6 L1491.2,1092.1 L1488.3,1092.5 L1485.3,1092.9 L1482.2,1093.3 L1479.1,1093.7 L1475.9,1094.1 L1472.6,1094.4 L1469.3,1094.7 L1466.0,1095.0 L1462.7,1095.2 L1459.4,1095.5 L1456.1,1095.7 L1452.9,1095.9 L1449.8,1096.0 L1446.7,1096.2 L1443.6,1096.3 L1440.6,1096.5 L1437.5,1096.7 L1434.5,1096.9 L1431.5,1097.1 L1428.5,1097.2 L1425.5,1097.4 L1422.5,1097.5 L1419.5,1097.7 L1416.4,1097.7 L1413.3,1097.8 L1410.1,1097.8 L1406.9,1097.8 L1403.6,1097.7 L1400.2,1097.5 L1396.7,1097.3 L1393.2,1097.1 L1389.6,1096.9 L1385.9,1096.6 L1382.1,1096.4 L1378.4,1096.1 L1374.6,1095.8 L1370.8,1095.4 L1366.9,1095.0 L1363.1,1094.6 L1359.3,1094.1 L1355.5,1093.6 L1351.8,1093.1 L1348.1,1092.5 L1344.4,1091.8 L1340.8,1091.1 L1337.3,1090.3 L1333.7,1089.5 L1330.2,1088.6 L1326.8,1087.7 L1323.3,1086.8 L1319.8,1085.8 L1316.4,1084.7 L1313.0,1083.6 L1309.6,1082.5 L1306.1,1081.3 L1302.7,1080.1 L1299.3,1078.8 L1295.9,1077.5 L1292.5,1076.2 L1289.0,1074.8 L1285.6,1073.3 L1282.1,1071.8 L1278.5,1070.1 L1274.8,1068.4 L1271.0,1066.5 L1267.2,1064.6 L1263.4,1062.6 L1259.6,1060.6 L1255.9,1058.5 L1252.1,1056.5 L1248.5,1054.5 L1245.0,1052.5 L1241.6,1050.6 L1238.4,1048.8 L1235.4,1047.1 L1232.6,1045.5 L1230.0,1044.0 L1227.6,1042.7 L1225.6,1041.5 L1223.7,1040.4 L1222.0,1039.4 L1220.5,1038.5 L1219.1,1037.6 L1217.8,1036.8 L1216.7,1036.0 L1215.5,1035.2 L1214.4,1034.5 L1213.3,1033.7 L1212.2,1033.0 L1211.1,1032.2 L1209.9,1031.4 L1208.5,1030.5 L1207.2,1029.6 L1204.7,1033.5 L1206.1,1034.4 L1207.3,1035.2 L1208.5,1036.0 L1209.6,1036.8 L1210.7,1037.5 L1211.8,1038.3 L1212.9,1039.0 L1214.1,1039.8 L1215.3,1040.6 L1216.6,1041.5 L1218.1,1042.4 L1219.6,1043.3 L1221.3,1044.4 L1223.2,1045.5 L1225.4,1046.7 L1227.7,1048.0 L1230.3,1049.5 L1233.1,1051.1 L1236.2,1052.8 L1239.4,1054.6 L1242.8,1056.5 L1246.3,1058.5 L1249.9,1060.5 L1253.7,1062.6 L1257.4,1064.6 L1261.3,1066.7 L1265.1,1068.7 L1269.0,1070.6 L1272.8,1072.5 L1276.5,1074.3 L1280.2,1076.0 L1283.8,1077.6 L1287.3,1079.0 L1290.7,1080.4 L1294.2,1081.8 L1297.7,1083.1 L1301.2,1084.4 L1304.6,1085.7 L1308.1,1086.9 L1311.6,1088.0 L1315.0,1089.1 L1318.5,1090.2 L1322.0,1091.2 L1325.6,1092.2 L1329.1,1093.1 L1332.7,1094.0 L1336.3,1094.8 L1339.9,1095.6 L1343.5,1096.3 L1347.3,1097.0 L1351.1,1097.6 L1354.9,1098.2 L1358.7,1098.7 L1362.6,1099.2 L1366.4,1099.6 L1370.3,1100.0 L1374.2,1100.4 L1378.0,1100.7 L1381.8,1101.0 L1385.6,1101.2 L1389.3,1101.5 L1392.9,1101.7 L1396.5,1101.9 L1400.0,1102.1 L1403.4,1102.3 L1406.7,1102.4 L1410.0,1102.5 L1413.2,1102.5 L1416.4,1102.6 L1419.5,1102.6 L1422.6,1102.6 L1425.6,1102.5 L1428.7,1102.4 L1431.7,1102.4 L1434.7,1102.2 L1437.8,1102.1 L1440.8,1102.0 L1443.8,1101.9 L1446.9,1101.7 L1450.0,1101.6 L1453.2,1101.5 L1456.4,1101.3 L1459.7,1101.1 L1463.0,1101.0 L1466.3,1100.8 L1469.7,1100.6 L1473.0,1100.4 L1476.3,1100.1 L1479.6,1099.9 L1482.8,1099.6 L1485.9,1099.3 L1489.0,1099.0 L1491.9,1098.7 L1494.8,1098.4 L1497.5,1098.0 L1500.1,1097.6 L1502.5,1097.2 L1504.9,1096.7 L1507.1,1096.3 L1509.3,1095.8 L1511.3,1095.2 L1513.3,1094.7 L1515.2,1094.1 L1517.1,1093.6 L1518.8,1093.0 L1520.6,1092.4 L1522.2,1091.8 L1523.9,1091.1 L1525.5,1090.5 L1527.1,1089.9 L1528.7,1089.2 L1530.2,1088.6 L1531.8,1087.9 L1533.3,1087.2 L1534.7,1086.5 L1536.1,1085.8 L1537.4,1085.1 L1538.7,1084.4 L1540.0,1083.7 L1541.3,1082.9 L1542.5,1082.2 L1543.6,1081.4 L1544.8,1080.6 L1545.9,1079.8 L1547.1,1079.0 L1548.2,1078.2 L1549.3,1077.3 L1550.4,1076.5 L1551.5,1075.6 L1552.5,1074.7 L1553.6,1073.8 L1554.6,1072.8 L1555.6,1071.9 L1556.6,1070.9 L1557.6,1069.9 L1558.6,1068.9 L1559.5,1067.9 L1560.4,1066.9 L1561.3,1065.8 L1562.2,1064.8 L1563.0,1063.7 L1563.9,1062.6 L1564.7,1061.5 L1565.5,1060.3 L1566.3,1059.2 L1567.0,1058.0 L1567.8,1056.8 L1568.5,1055.6 L1569.2,1054.3 L1569.9,1053.1 L1570.6,1051.8 L1571.2,1050.5 L1571.9,1049.2 L1572.5,1047.9 L1573.0,1046.6 L1573.6,1045.3 L1574.1,1044.0 L1574.6,1042.7 L1575.1,1041.5 L1575.6,1040.2 L1576.0,1038.9 L1576.4,1037.6 L1576.8,1036.4 L1577.1,1035.1 L1577.4,1033.8 L1577.7,1032.5 L1578.0,1031.2 L1578.2,1029.9 L1578.4,1028.6 L1578.6,1027.3 L1578.8,1026.1 L1579.0,1024.8 L1579.2,1023.6 L1579.3,1022.4 L1579.5,1021.2 L1579.6,1020.1 L1579.7,1019.0 L1579.8,1018.0 L1579.9,1017.1 L1580.0,1016.2 L1580.1,1015.4 L1580.1,1014.6 L1580.2,1013.8 L1580.2,1013.0 L1580.2,1012.1 L1580.2,1011.2 L1580.2,1010.2 L1580.1,1009.1 L1580.0,1007.9 L1579.9,1006.6 L1579.8,1005.2 L1579.6,1003.5 L1579.4,1001.7 L1579.2,999.8 L1579.0,997.7 L1578.7,995.5 L1578.4,993.1 L1578.1,990.7 L1577.8,988.2 L1577.4,985.7 L1577.0,983.1 L1576.6,980.5 L1576.2,977.8 L1575.8,975.2 L1575.3,972.6 L1574.8,970.0 L1574.3,967.5 L1573.8,965.1 L1573.2,962.7 L1572.6,960.3 L1572.0,957.9 L1571.4,955.5 L1570.8,953.1 L1570.1,950.7 L1569.4,948.3 L1568.7,945.9 L1567.9,943.5 L1567.2,941.1 L1566.4,938.7 L1565.6,936.3 L1564.8,933.9 L1563.9,931.5 L1563.1,929.1 L1562.2,926.7 L1561.3,924.3 L1560.4,922.0 L1559.4,919.8 L1558.5,917.5 L1557.6,915.3 L1556.6,913.1 L1555.6,910.9 L1554.6,908.7 L1553.6,906.4 L1552.5,904.0 L1551.4,901.7 L1550.2,899.2 L1549.0,896.6 L1547.7,894.0 L1546.3,891.2 L1544.9,888.2 L1543.4,885.2 L1541.9,882.0 L1540.2,878.6 L1538.4,875.2 L1536.6,871.7 L1534.7,868.1 L1532.8,864.4 L1530.9,860.7 L1529.0,856.9 L1527.0,853.1 L1525.1,849.3 L1523.2,845.6 L1521.3,841.8 L1519.5,838.1 L1517.8,834.4 L1516.1,830.8 L1514.5,827.2 L1513.0,823.7 L1511.4,820.2 L1509.9,816.8 L1508.3,813.4 L1506.8,810.0 L1505.4,806.6 L1503.9,803.2 L1502.5,799.7 L1501.1,796.2 L1499.7,792.6 L1498.4,788.9 L1497.0,785.2 L1495.7,781.3 L1494.4,777.3 L1493.2,773.2 L1491.9,769.0 L1490.7,764.6 L1489.6,760.1 L1488.4,755.4 L1487.3,750.7 L1486.2,745.9 L1485.1,741.0 L1484.1,736.1 L1483.0,731.2 L1482.0,726.2 L1481.0,721.2 L1479.9,716.2 L1478.9,711.2 L1477.9,706.3 L1476.9,701.4 L1475.9,696.6 L1474.9,691.7 L1473.8,686.8 L1472.7,681.8 L1471.6,676.8 L1470.5,671.7 L1469.5,666.6 L1468.4,661.6 L1467.3,656.6 L1466.3,651.6 L1465.3,646.7 L1464.4,641.9 L1463.5,637.2 L1462.7,632.6 L1461.9,628.2 L1461.2,624.0 L1460.6,619.9 L1460.1,616.1 L1459.6,612.4 L1459.3,608.9 L1459.0,605.6 L1458.8,602.4 L1458.6,599.3 L1458.4,596.3 L1458.3,593.3 L1458.3,590.4 L1458.2,587.6 L1458.1,584.7 L1458.1,581.9 L1458.0,579.0 L1457.9,576.0 L1457.8,573.0 L1457.6,570.0 Z" fill="#e27d05"/>
<path d="M1456.7,570.0 L1456.9,573.1 L1457.0,576.1 L1457.1,579.0 L1457.2,581.9 L1457.2,584.7 L1457.3,587.6 L1457.4,590.4 L1457.4,593.3 L1457.5,596.3 L1457.7,599.3 L1457.9,602.4 L1458.1,605.6 L1458.4,609.0 L1458.7,612.5 L1459.2,616.2 L1459.7,620.0 L1460.3,624.1 L1461.0,628.4 L1461.8,632.8 L1462.6,637.4 L1463.5,642.1 L1464.5,646.9 L1465.4,651.8 L1466.5,656.7 L1467.5,661.8 L1468.6,666.8 L1469.7,671.9 L1470.8,677.0 L1471.8,682.0 L1472.9,687.0 L1474.0,691.9 L1475.0,696.8 L1476.0,701.6 L1477.0,706.5 L1478.0,711.4 L1479.1,716.4 L1480.1,721.4 L1481.1,726.4 L1482.1,731.3 L1483.2,736.3 L1484.2,741.2 L1485.3,746.1 L1486.4,750.9 L1487.5,755.6 L1488.7,760.3 L1489.9,764.8 L1491.1,769.2 L1492.3,773.5 L1493.6,777.6 L1494.9,781.6 L1496.2,785.5 L1497.5,789.2 L1498.9,792.9 L1500.3,796.5 L1501.7,800.0 L1503.1,803.5 L1504.6,807.0 L1506.0,810.4 L1507.5,813.8 L1509.0,817.2 L1510.6,820.6 L1512.1,824.1 L1513.7,827.6 L1515.3,831.1 L1517.0,834.8 L1518.7,838.5 L1520.5,842.2 L1522.4,846.0 L1524.3,849.8 L1526.2,853.5 L1528.2,857.3 L1530.1,861.1 L1532.0,864.8 L1533.9,868.5 L1535.8,872.1 L1537.6,875.6 L1539.4,879.0 L1541.0,882.4 L1542.6,885.6 L1544.1,888.6 L1545.5,891.6 L1546.9,894.3 L1548.2,897.0 L1549.4,899.6 L1550.5,902.0 L1551.7,904.4 L1552.8,906.8 L1553.8,909.0 L1554.8,911.3 L1555.8,913.5 L1556.8,915.7 L1557.7,917.9 L1558.6,920.1 L1559.5,922.3 L1560.4,924.6 L1561.3,927.0 L1562.2,929.4 L1563.1,931.8 L1563.9,934.2 L1564.7,936.6 L1565.5,939.0 L1566.3,941.4 L1567.1,943.7 L1567.8,946.1 L1568.5,948.5 L1569.2,950.9 L1569.9,953.3 L1570.5,955.7 L1571.2,958.1 L1571.8,960.5 L1572.4,962.9 L1572.9,965.3 L1573.4,967.7 L1573.9,970.2 L1574.4,972.8 L1574.9,975.4 L1575.3,978.0 L1575.8,980.6 L1576.2,983.2 L1576.5,985.8 L1576.9,988.4 L1577.2,990.8 L1577.5,993.3 L1577.8,995.6 L1578.1,997.8 L1578.3,999.9 L1578.5,1001.8 L1578.7,1003.6 L1578.9,1005.3 L1579.0,1006.7 L1579.1,1008.0 L1579.2,1009.2 L1579.3,1010.2 L1579.3,1011.2 L1579.3,1012.1 L1579.3,1012.9 L1579.3,1013.7 L1579.2,1014.5 L1579.2,1015.3 L1579.1,1016.1 L1579.0,1017.0 L1578.9,1017.9 L1578.8,1018.9 L1578.7,1020.0 L1578.6,1021.1 L1578.4,1022.3 L1578.3,1023.5 L1578.1,1024.7 L1578.0,1025.9 L1577.8,1027.2 L1577.6,1028.5 L1577.3,1029.7 L1577.1,1031.0 L1576.8,1032.3 L1576.5,1033.6 L1576.2,1034.8 L1575.9,1036.1 L1575.5,1037.4 L1575.1,1038.7 L1574.7,1039.9 L1574.3,1041.2 L1573.8,1042.4 L1573.3,1043.7 L1572.8,1045.0 L1572.2,1046.3 L1571.6,1047.6 L1571.0,1048.8 L1570.4,1050.1 L1569.8,1051.4 L1569.1,1052.7 L1568.4,1053.9 L1567.7,1055.1 L1567.0,1056.3 L1566.3,1057.5 L1565.5,1058.7 L1564.8,1059.8 L1564.0,1060.9 L1563.2,1062.0 L1562.3,1063.1 L1561.5,1064.2 L1560.6,1065.2 L1559.7,1066.3 L1558.8,1067.3 L1557.9,1068.3 L1557.0,1069.3 L1556.0,1070.3 L1555.0,1071.2 L1554.0,1072.2 L1553.0,1073.1 L1552.0,1074.0 L1550.9,1074.9 L1549.8,1075.8 L1548.7,1076.6 L1547.6,1077.5 L1546.5,1078.3 L1545.4,1079.1 L1544.3,1079.9 L1543.1,1080.7 L1542.0,1081.4 L1540.8,1082.2 L1539.6,1082.9 L1538.3,1083.6 L1537.0,1084.3 L1535.7,1085.0 L1534.3,1085.7 L1532.9,1086.4 L1531.4,1087.1 L1529.9,1087.7 L1528.3,1088.4 L1526.8,1089.0 L1525.2,1089.7 L1523.6,1090.3 L1521.9,1090.9 L1520.3,1091.5 L1518.5,1092.1 L1516.8,1092.7 L1515.0,1093.3 L1513.1,1093.8 L1511.1,1094.4 L1509.1,1094.9 L1506.9,1095.4 L1504.7,1095.8 L1502.4,1096.3 L1500.0,1096.7 L1497.4,1097.1 L1494.7,1097.5 L1491.8,1097.8 L1488.9,1098.1 L1485.8,1098.4 L1482.7,1098.7 L1479.5,1099.0 L1476.2,1099.2 L1472.9,1099.5 L1469.6,1099.7 L1466.3,1099.9 L1463.0,1100.1 L1459.6,1100.2 L1456.4,1100.4 L1453.1,1100.6 L1450.0,1100.7 L1446.9,1100.8 L1443.8,1101.0 L1440.8,1101.1 L1437.7,1101.2 L1434.7,1101.3 L1431.7,1101.5 L1428.7,1101.5 L1425.6,1101.6 L1422.6,1101.7 L1419.5,1101.7 L1416.4,1101.7 L1413.2,1101.6 L1410.0,1101.6 L1406.7,1101.5 L1403.4,1101.4 L1400.0,1101.2 L1396.5,1101.0 L1393.0,1100.8 L1389.3,1100.6 L1385.6,1100.3 L1381.9,1100.1 L1378.1,1099.8 L1374.3,1099.5 L1370.4,1099.1 L1366.5,1098.7 L1362.7,1098.3 L1358.8,1097.8 L1355.0,1097.3 L1351.2,1096.7 L1347.4,1096.1 L1343.7,1095.4 L1340.1,1094.7 L1336.5,1093.9 L1332.9,1093.1 L1329.3,1092.2 L1325.8,1091.3 L1322.3,1090.3 L1318.8,1089.3 L1315.3,1088.3 L1311.8,1087.2 L1308.4,1086.0 L1304.9,1084.8 L1301.5,1083.6 L1298.0,1082.3 L1294.6,1081.0 L1291.1,1079.6 L1287.6,1078.2 L1284.1,1076.7 L1280.6,1075.2 L1276.9,1073.5 L1273.2,1071.7 L1269.4,1069.8 L1265.5,1067.9 L1261.7,1065.9 L1257.9,1063.8 L1254.1,1061.8 L1250.4,1059.7 L1246.7,1057.7 L1243.2,1055.7 L1239.8,1053.8 L1236.6,1052.0 L1233.6,1050.3 L1230.7,1048.7 L1228.1,1047.2 L1225.8,1045.9 L1223.7,1044.7 L1221.8,1043.6 L1220.1,1042.6 L1218.5,1041.6 L1217.1,1040.7 L1215.8,1039.9 L1214.6,1039.1 L1213.5,1038.3 L1212.3,1037.5 L1211.2,1036.8 L1210.1,1036.0 L1209.0,1035.3 L1207.8,1034.5 L1206.5,1033.6 L1205.2,1032.7 L1198.8,1042.7 L1200.1,1043.5 L1201.3,1044.3 L1202.4,1045.1 L1203.5,1045.8 L1204.6,1046.5 L1205.7,1047.3 L1206.8,1048.1 L1208.0,1048.9 L1209.3,1049.7 L1210.8,1050.7 L1212.3,1051.6 L1213.9,1052.6 L1215.8,1053.7 L1217.8,1054.9 L1220.0,1056.2 L1222.4,1057.5 L1224.9,1059.0 L1227.8,1060.6 L1230.8,1062.3 L1234.0,1064.1 L1237.4,1066.0 L1241.0,1068.0 L1244.6,1070.1 L1248.4,1072.2 L1252.3,1074.2 L1256.2,1076.3 L1260.1,1078.4 L1264.0,1080.4 L1268.0,1082.3 L1271.9,1084.2 L1275.7,1086.0 L1279.5,1087.6 L1283.1,1089.1 L1286.7,1090.6 L1290.2,1092.0 L1293.8,1093.4 L1297.4,1094.7 L1301.0,1096.0 L1304.6,1097.3 L1308.2,1098.5 L1311.8,1099.6 L1315.4,1100.7 L1319.1,1101.8 L1322.7,1102.8 L1326.4,1103.7 L1330.1,1104.7 L1333.8,1105.5 L1337.6,1106.4 L1341.5,1107.1 L1345.4,1107.9 L1349.3,1108.5 L1353.3,1109.1 L1357.3,1109.6 L1361.3,1110.1 L1365.3,1110.6 L1369.3,1111.0 L1373.2,1111.4 L1377.1,1111.7 L1381.0,1112.0 L1384.8,1112.3 L1388.6,1112.5 L1392.3,1112.7 L1395.9,1113.0 L1399.4,1113.2 L1402.9,1113.3 L1406.3,1113.5 L1409.7,1113.6 L1413.0,1113.6 L1416.3,1113.7 L1419.5,1113.7 L1422.7,1113.7 L1425.8,1113.6 L1429.0,1113.6 L1432.1,1113.5 L1435.1,1113.4 L1438.2,1113.3 L1441.3,1113.1 L1444.3,1113.0 L1447.4,1112.9 L1450.5,1112.7 L1453.7,1112.6 L1457.0,1112.4 L1460.3,1112.3 L1463.6,1112.1 L1467.0,1111.9 L1470.4,1111.7 L1473.7,1111.5 L1477.1,1111.3 L1480.4,1111.0 L1483.7,1110.8 L1487.0,1110.5 L1490.1,1110.2 L1493.2,1109.8 L1496.2,1109.5 L1499.1,1109.1 L1501.9,1108.7 L1504.6,1108.2 L1507.1,1107.7 L1509.6,1107.2 L1511.9,1106.7 L1514.2,1106.1 L1516.4,1105.5 L1518.5,1104.9 L1520.5,1104.3 L1522.5,1103.6 L1524.4,1103.0 L1526.2,1102.3 L1528.0,1101.7 L1529.7,1101.0 L1531.4,1100.3 L1533.0,1099.6 L1534.6,1098.9 L1536.3,1098.2 L1538.0,1097.5 L1539.6,1096.7 L1541.2,1095.9 L1542.8,1095.1 L1544.3,1094.3 L1545.7,1093.5 L1547.2,1092.6 L1548.6,1091.7 L1549.9,1090.9 L1551.2,1090.0 L1552.5,1089.1 L1553.8,1088.1 L1555.0,1087.2 L1556.3,1086.3 L1557.5,1085.3 L1558.7,1084.3 L1559.9,1083.3 L1561.1,1082.2 L1562.3,1081.2 L1563.5,1080.1 L1564.6,1079.0 L1565.8,1077.8 L1566.9,1076.7 L1567.9,1075.5 L1569.0,1074.3 L1570.0,1073.1 L1571.0,1071.9 L1572.0,1070.7 L1573.0,1069.4 L1573.9,1068.1 L1574.9,1066.8 L1575.8,1065.5 L1576.7,1064.1 L1577.5,1062.7 L1578.4,1061.3 L1579.2,1059.9 L1580.0,1058.5 L1580.7,1057.0 L1581.4,1055.6 L1582.1,1054.1 L1582.8,1052.7 L1583.5,1051.2 L1584.1,1049.7 L1584.7,1048.3 L1585.3,1046.8 L1585.8,1045.4 L1586.3,1043.9 L1586.8,1042.4 L1587.3,1040.9 L1587.8,1039.4 L1588.1,1037.9 L1588.5,1036.4 L1588.8,1034.9 L1589.1,1033.4 L1589.4,1031.9 L1589.7,1030.5 L1589.9,1029.1 L1590.1,1027.7 L1590.3,1026.4 L1590.5,1025.1 L1590.6,1023.8 L1590.8,1022.5 L1590.9,1021.3 L1591.0,1020.2 L1591.1,1019.2 L1591.2,1018.3 L1591.3,1017.3 L1591.4,1016.3 L1591.5,1015.3 L1591.6,1014.2 L1591.6,1013.2 L1591.6,1012.0 L1591.6,1010.9 L1591.5,1009.6 L1591.4,1008.4 L1591.3,1007.0 L1591.2,1005.6 L1591.1,1004.0 L1590.9,1002.4 L1590.7,1000.5 L1590.5,998.5 L1590.2,996.4 L1589.9,994.1 L1589.7,991.7 L1589.3,989.3 L1589.0,986.7 L1588.6,984.1 L1588.2,981.4 L1587.8,978.7 L1587.4,976.0 L1586.9,973.3 L1586.4,970.6 L1585.9,967.9 L1585.4,965.2 L1584.8,962.6 L1584.2,960.1 L1583.6,957.6 L1583.0,955.1 L1582.3,952.6 L1581.6,950.1 L1580.9,947.6 L1580.2,945.1 L1579.5,942.6 L1578.7,940.1 L1577.9,937.6 L1577.1,935.1 L1576.2,932.7 L1575.4,930.2 L1574.5,927.7 L1573.6,925.2 L1572.7,922.7 L1571.7,920.3 L1570.8,917.9 L1569.8,915.5 L1568.9,913.2 L1567.9,910.9 L1566.9,908.6 L1565.8,906.3 L1564.8,904.0 L1563.7,901.7 L1562.6,899.3 L1561.5,896.9 L1560.3,894.4 L1559.0,891.8 L1557.7,889.1 L1556.4,886.3 L1555.0,883.4 L1553.4,880.2 L1551.8,877.0 L1550.1,873.6 L1548.3,870.1 L1546.5,866.6 L1544.6,862.9 L1542.7,859.3 L1540.8,855.6 L1538.8,851.8 L1536.9,848.1 L1535.0,844.4 L1533.1,840.6 L1531.3,836.9 L1529.5,833.3 L1527.9,829.7 L1526.2,826.2 L1524.6,822.6 L1523.0,819.1 L1521.5,815.7 L1520.0,812.3 L1518.5,808.9 L1517.0,805.6 L1515.5,802.3 L1514.1,798.9 L1512.7,795.6 L1511.4,792.2 L1510.1,788.7 L1508.7,785.2 L1507.5,781.6 L1506.2,777.9 L1504.9,774.0 L1503.7,770.1 L1502.5,766.0 L1501.4,761.7 L1500.2,757.3 L1499.1,752.8 L1498.0,748.2 L1496.9,743.5 L1495.8,738.7 L1494.8,733.8 L1493.8,728.9 L1492.7,724.0 L1491.7,719.0 L1490.7,714.0 L1489.7,709.0 L1488.6,704.1 L1487.6,699.2 L1486.6,694.3 L1485.6,689.4 L1484.5,684.5 L1483.4,679.5 L1482.3,674.5 L1481.2,669.4 L1480.2,664.4 L1479.1,659.3 L1478.0,654.3 L1477.0,649.4 L1476.1,644.6 L1475.1,639.8 L1474.2,635.2 L1473.4,630.7 L1472.7,626.4 L1472.0,622.3 L1471.4,618.4 L1470.9,614.7 L1470.5,611.2 L1470.1,607.9 L1469.9,604.7 L1469.6,601.7 L1469.5,598.7 L1469.3,595.8 L1469.2,593.0 L1469.1,590.1 L1469.1,587.3 L1469.0,584.5 L1469.0,581.6 L1468.9,578.7 L1468.8,575.6 L1468.7,572.5 L1468.5,569.4 Z" fill="#e83a1f"/>
<path d="M668.2,836.3 L670.1,834.2 L672.0,832.0 L673.9,829.9 L675.8,827.7 L677.7,825.6 L679.6,823.4 L681.5,821.2 L683.4,819.0 L685.3,816.9 L687.2,814.7 L689.1,812.5 L690.9,810.4 L692.8,808.2 L694.6,806.1 L696.3,803.9 L698.1,801.8 L699.8,799.7 L701.4,797.6 L703.1,795.5 L704.6,793.5 L706.1,791.5 L707.6,789.5 L709.1,787.5 L710.6,785.5 L712.0,783.6 L713.4,781.7 L714.9,779.8 L716.3,777.9 L717.8,776.0 L719.2,774.1 L720.8,772.2 L722.3,770.3 L724.0,768.4 L725.6,766.4 L727.3,764.4 L728.9,762.5 L730.6,760.5 L732.3,758.5 L734.0,756.6 L735.8,754.6 L737.5,752.7 L739.3,750.7 L741.0,748.8 L742.8,746.9 L744.6,745.1 L746.5,743.2 L748.3,741.4 L750.2,739.6 L752.1,737.8 L754.1,736.0 L756.1,734.2 L758.2,732.4 L760.3,730.5 L762.4,728.7 L764.6,726.9 L766.7,725.1 L768.9,723.4 L771.0,721.6 L773.1,719.9 L775.2,718.2 L777.3,716.6 L779.3,715.0 L781.3,713.4 L783.2,712.0 L785.0,710.6 L786.7,709.2 L788.4,708.0 L790.1,706.8 L791.7,705.6 L793.2,704.5 L794.8,703.4 L796.4,702.3 L797.9,701.2 L799.5,700.2 L801.1,699.1 L802.8,698.1 L804.5,697.0 L806.2,695.9 L808.0,694.8 L809.9,693.6 L811.8,692.4 L813.8,691.1 L815.8,689.8 L817.8,688.5 L819.7,687.2 L821.7,685.9 L823.6,684.7 L825.6,683.5 L827.5,682.3 L829.5,681.2 L831.5,680.1 L833.6,679.1 L835.6,678.1 L837.7,677.2 L839.9,676.4 L842.1,675.7 L844.4,675.0 L846.8,674.4 L849.3,673.7 L851.9,673.1 L854.5,672.5 L857.2,672.0 L859.9,671.4 L862.7,670.9 L865.5,670.5 L868.2,670.0 L871.1,669.7 L873.9,669.3 L876.7,669.0 L879.5,668.8 L882.2,668.6 L884.9,668.5 L887.7,668.4 L890.4,668.4 L893.2,668.4 L895.9,668.5 L898.7,668.6 L901.5,668.9 L904.3,669.1 L907.1,669.5 L909.9,669.9 L912.6,670.4 L915.4,670.9 L918.1,671.5 L920.8,672.1 L923.5,672.7 L926.1,673.4 L928.8,674.0 L931.3,674.8 L933.9,675.5 L936.6,676.4 L939.2,677.3 L941.8,678.2 L944.4,679.2 L947.0,680.3 L949.5,681.4 L952.1,682.5 L954.6,683.6 L957.1,684.8 L959.5,686.1 L961.9,687.3 L964.2,688.6 L966.5,689.9 L968.7,691.1 L970.8,692.4 L972.9,693.8 L975.0,695.1 L977.0,696.5 L979.0,697.9 L981.0,699.4 L982.9,700.8 L984.8,702.2 L986.6,703.7 L988.5,705.1 L990.3,706.5 L992.0,708.0 L993.7,709.4 L995.4,710.8 L997.1,712.2 L998.7,713.5 L1000.2,714.8 L1001.7,716.1 L1003.1,717.4 L1004.4,718.7 L1005.7,719.9 L1007.0,721.2 L1008.2,722.5 L1009.4,723.7 L1010.6,725.0 L1011.7,726.3 L1012.9,727.5 L1014.1,728.8 L1015.3,730.1 L1016.5,731.4 L1017.7,732.7 L1018.9,734.0 L1020.4,732.6 L1019.2,731.3 L1018.0,730.0 L1016.8,728.7 L1015.7,727.4 L1014.5,726.1 L1013.4,724.8 L1012.2,723.5 L1011.1,722.2 L1009.9,720.9 L1008.7,719.6 L1007.4,718.3 L1006.1,717.0 L1004.8,715.6 L1003.4,714.3 L1001.9,712.9 L1000.4,711.6 L998.8,710.2 L997.2,708.7 L995.5,707.3 L993.8,705.8 L992.1,704.4 L990.3,702.9 L988.5,701.4 L986.6,699.9 L984.7,698.4 L982.8,696.9 L980.8,695.5 L978.8,694.0 L976.7,692.6 L974.6,691.2 L972.5,689.8 L970.3,688.5 L968.1,687.2 L965.8,685.8 L963.5,684.5 L961.1,683.2 L958.7,681.8 L956.2,680.5 L953.7,679.2 L951.2,678.0 L948.6,676.7 L946.1,675.5 L943.4,674.4 L940.8,673.3 L938.2,672.2 L935.5,671.2 L932.8,670.3 L930.2,669.4 L927.5,668.6 L924.8,667.9 L922.0,667.2 L919.2,666.5 L916.4,665.9 L913.6,665.3 L910.8,664.8 L907.9,664.3 L905.0,663.9 L902.2,663.5 L899.3,663.2 L896.4,663.0 L893.5,662.7 L890.7,662.6 L887.8,662.5 L885.0,662.4 L882.2,662.4 L879.3,662.4 L876.4,662.5 L873.5,662.7 L870.5,662.9 L867.6,663.2 L864.7,663.5 L861.7,663.8 L858.8,664.3 L856.0,664.7 L853.1,665.2 L850.4,665.8 L847.6,666.4 L845.0,667.0 L842.4,667.7 L839.8,668.4 L837.4,669.2 L835.0,670.1 L832.6,671.1 L830.3,672.1 L828.1,673.2 L825.9,674.3 L823.7,675.5 L821.6,676.7 L819.6,678.0 L817.5,679.2 L815.5,680.5 L813.5,681.7 L811.5,682.9 L809.6,684.2 L807.6,685.3 L805.7,686.5 L803.8,687.6 L802.0,688.7 L800.2,689.7 L798.4,690.8 L796.7,691.8 L795.0,692.8 L793.3,693.8 L791.7,694.9 L790.0,695.9 L788.3,697.0 L786.7,698.1 L784.9,699.3 L783.2,700.5 L781.4,701.8 L779.6,703.1 L777.6,704.5 L775.7,706.0 L773.6,707.5 L771.6,709.1 L769.4,710.8 L767.3,712.4 L765.1,714.2 L762.9,715.9 L760.7,717.7 L758.5,719.5 L756.3,721.4 L754.1,723.2 L751.9,725.1 L749.8,727.0 L747.7,728.8 L745.6,730.7 L743.6,732.6 L741.6,734.4 L739.7,736.3 L737.8,738.2 L735.9,740.1 L734.0,742.0 L732.1,744.0 L730.3,745.9 L728.5,747.9 L726.7,749.9 L724.9,751.8 L723.2,753.8 L721.4,755.8 L719.7,757.7 L717.9,759.7 L716.2,761.7 L714.5,763.6 L712.9,765.5 L711.3,767.5 L709.7,769.4 L708.1,771.3 L706.6,773.2 L705.1,775.1 L703.6,777.0 L702.1,778.9 L700.6,780.9 L699.1,782.8 L697.6,784.7 L696.0,786.7 L694.5,788.6 L692.9,790.6 L691.2,792.6 L689.5,794.6 L687.8,796.7 L686.0,798.7 L684.2,800.8 L682.4,802.9 L680.5,805.0 L678.7,807.1 L676.8,809.3 L674.9,811.4 L672.9,813.6 L671.0,815.7 L669.1,817.9 L667.2,820.0 L665.2,822.2 L663.3,824.3 L661.4,826.5 L659.6,828.6 Z" fill="#e27d05"/>
<path d="M660.2,829.2 L662.1,827.1 L664.0,824.9 L665.9,822.8 L667.8,820.6 L669.8,818.5 L671.7,816.3 L673.6,814.2 L675.5,812.0 L677.4,809.9 L679.3,807.7 L681.2,805.6 L683.1,803.5 L684.9,801.4 L686.7,799.3 L688.5,797.2 L690.2,795.2 L691.9,793.2 L693.6,791.2 L695.2,789.2 L696.7,787.2 L698.3,785.3 L699.8,783.3 L701.3,781.4 L702.8,779.5 L704.3,777.6 L705.8,775.7 L707.3,773.8 L708.8,771.9 L710.4,770.0 L711.9,768.0 L713.6,766.1 L715.2,764.2 L716.9,762.3 L718.6,760.3 L720.3,758.3 L722.1,756.4 L723.8,754.4 L725.6,752.4 L727.4,750.5 L729.2,748.5 L731.0,746.6 L732.8,744.6 L734.7,742.7 L736.5,740.7 L738.4,738.8 L740.3,736.9 L742.3,735.1 L744.2,733.2 L746.2,731.4 L748.3,729.5 L750.3,727.6 L752.5,725.8 L754.7,723.9 L756.8,722.1 L759.0,720.2 L761.3,718.4 L763.5,716.6 L765.7,714.9 L767.8,713.1 L770.0,711.5 L772.1,709.8 L774.2,708.2 L776.2,706.7 L778.2,705.2 L780.1,703.8 L781.9,702.5 L783.7,701.3 L785.5,700.0 L787.2,698.9 L788.8,697.8 L790.5,696.7 L792.2,695.6 L793.8,694.6 L795.5,693.6 L797.2,692.5 L798.9,691.5 L800.6,690.5 L802.4,689.4 L804.2,688.4 L806.2,687.3 L808.1,686.1 L810.0,684.9 L812.0,683.7 L814.0,682.5 L816.0,681.2 L818.0,680.0 L820.0,678.7 L822.1,677.5 L824.2,676.3 L826.3,675.1 L828.5,674.0 L830.7,672.9 L833.0,671.9 L835.3,671.0 L837.7,670.1 L840.1,669.3 L842.6,668.6 L845.2,667.9 L847.8,667.2 L850.5,666.6 L853.3,666.1 L856.1,665.6 L859.0,665.1 L861.9,664.7 L864.8,664.4 L867.7,664.1 L870.6,663.8 L873.5,663.6 L876.4,663.4 L879.3,663.3 L882.2,663.3 L885.0,663.3 L887.8,663.4 L890.6,663.5 L893.5,663.6 L896.3,663.9 L899.2,664.1 L902.1,664.4 L904.9,664.8 L907.8,665.2 L910.6,665.7 L913.4,666.2 L916.2,666.8 L919.0,667.4 L921.8,668.1 L924.5,668.8 L927.2,669.5 L929.9,670.3 L932.6,671.1 L935.2,672.1 L937.8,673.0 L940.5,674.1 L943.1,675.2 L945.7,676.3 L948.3,677.5 L950.8,678.8 L953.3,680.0 L955.8,681.3 L958.3,682.6 L960.7,683.9 L963.0,685.3 L965.4,686.6 L967.6,687.9 L969.8,689.3 L972.0,690.6 L974.1,691.9 L976.2,693.3 L978.3,694.8 L980.3,696.2 L982.2,697.7 L984.2,699.1 L986.1,700.6 L987.9,702.1 L989.7,703.6 L991.5,705.1 L993.2,706.5 L994.9,708.0 L996.6,709.4 L998.2,710.8 L999.8,712.2 L1001.3,713.6 L1002.8,714.9 L1004.2,716.3 L1005.5,717.6 L1006.8,718.9 L1008.0,720.2 L1009.2,721.5 L1010.4,722.8 L1011.6,724.1 L1012.7,725.4 L1013.9,726.7 L1015.0,728.0 L1016.2,729.3 L1017.3,730.6 L1018.5,731.9 L1019.8,733.2 L1028.4,725.1 L1027.2,723.9 L1026.1,722.6 L1024.9,721.4 L1023.8,720.1 L1022.7,718.9 L1021.6,717.5 L1020.4,716.2 L1019.2,714.9 L1018.0,713.5 L1016.7,712.1 L1015.4,710.7 L1014.0,709.2 L1012.5,707.7 L1011.0,706.2 L1009.4,704.7 L1007.8,703.2 L1006.2,701.8 L1004.5,700.3 L1002.8,698.8 L1001.1,697.3 L999.3,695.8 L997.5,694.2 L995.6,692.6 L993.7,691.0 L991.7,689.4 L989.6,687.8 L987.5,686.2 L985.4,684.7 L983.2,683.1 L980.9,681.6 L978.6,680.1 L976.3,678.6 L974.0,677.2 L971.6,675.8 L969.2,674.4 L966.8,673.0 L964.3,671.6 L961.7,670.2 L959.1,668.8 L956.4,667.4 L953.7,666.1 L950.9,664.8 L948.1,663.5 L945.3,662.3 L942.4,661.2 L939.5,660.1 L936.6,659.0 L933.7,658.1 L930.8,657.2 L927.8,656.4 L924.9,655.6 L921.9,654.9 L918.9,654.3 L915.8,653.6 L912.8,653.1 L909.7,652.6 L906.7,652.1 L903.6,651.7 L900.5,651.3 L897.4,651.0 L894.4,650.8 L891.3,650.6 L888.2,650.5 L885.1,650.4 L882.1,650.3 L879.0,650.4 L875.8,650.5 L872.7,650.6 L869.6,650.8 L866.4,651.0 L863.3,651.3 L860.1,651.7 L857.0,652.1 L853.9,652.6 L850.9,653.1 L847.8,653.6 L844.8,654.3 L841.9,654.9 L839.0,655.7 L836.1,656.5 L833.2,657.4 L830.4,658.4 L827.6,659.5 L825.0,660.6 L822.4,661.9 L819.9,663.1 L817.5,664.4 L815.2,665.7 L812.9,667.0 L810.8,668.2 L808.7,669.5 L806.6,670.7 L804.7,671.9 L802.8,673.1 L800.9,674.1 L799.1,675.2 L797.2,676.3 L795.3,677.3 L793.5,678.4 L791.7,679.4 L789.9,680.5 L788.1,681.5 L786.3,682.6 L784.6,683.6 L782.8,684.7 L781.0,685.9 L779.2,687.1 L777.4,688.3 L775.5,689.6 L773.6,690.9 L771.7,692.3 L769.7,693.8 L767.6,695.3 L765.5,696.9 L763.4,698.5 L761.2,700.2 L759.0,701.9 L756.7,703.6 L754.4,705.3 L752.0,707.1 L749.7,708.9 L747.3,710.7 L744.9,712.5 L742.6,714.3 L740.2,716.2 L737.9,718.0 L735.6,719.8 L733.4,721.6 L731.1,723.5 L728.9,725.3 L726.7,727.2 L724.6,729.0 L722.4,730.9 L720.3,732.8 L718.3,734.7 L716.2,736.6 L714.2,738.5 L712.2,740.4 L710.2,742.3 L708.2,744.1 L706.3,746.0 L704.4,747.9 L702.6,749.7 L700.7,751.6 L698.8,753.5 L696.9,755.5 L695.1,757.5 L693.4,759.4 L691.7,761.3 L690.0,763.3 L688.4,765.2 L686.9,767.1 L685.3,769.0 L683.8,770.8 L682.3,772.7 L680.8,774.6 L679.3,776.4 L677.7,778.2 L676.1,780.0 L674.4,781.8 L672.6,783.6 L670.7,785.5 L668.8,787.4 L666.9,789.3 L664.9,791.3 L662.9,793.2 L660.9,795.2 L658.9,797.2 L656.8,799.2 L654.8,801.2 L652.7,803.2 L650.7,805.3 L648.7,807.4 L646.7,809.5 L644.7,811.6 L642.8,813.8 Z" fill="#e83a1f"/>
<rect x="0" y="0" width="2000" height="1200" fill="#fff" mask="url(#m0)"/>
<rect x="0" y="0" width="2000" height="1200" fill="#fff" mask="url(#m1)"/>
<rect x="0" y="0" width="2000" height="1200" fill="#fff" mask="url(#m2)"/>
<rect x="0" y="0" width="2000" height="1200" fill="#fff" mask="url(#m3)"/>
<text x="68.3" y="86" font-family='"Liberation Serif", serif' font-weight="bold" font-size="68" fill="#fff" stroke="#fff" stroke-width="0.4" textLength="1364" lengthAdjust="spacingAndGlyphs">Metal-Support Interaction by Interpretable ML</text>
<text x="70" y="139" font-family='"Liberation Serif", serif' font-weight="bold" font-size="29" fill="#fff" textLength="433" lengthAdjust="spacingAndGlyphs">Metal Particle Adhesion Energy</text>
<text x="510" y="139" font-family='"Liberation Serif", serif' font-weight="bold" font-style="italic" font-size="34" fill="#fff" textLength="25" lengthAdjust="spacingAndGlyphs">E</text>
<text x="535" y="144" font-family='"Liberation Serif", serif' font-weight="bold" font-size="23" fill="#fff" textLength="31" lengthAdjust="spacingAndGlyphs">adh</text>
<text x="181.9" y="253.7" font-family='"Liberation Sans", sans-serif' font-size="32.5" fill="#e8401f" stroke="#e8401f" stroke-width="0.7" textLength="336.4" lengthAdjust="spacingAndGlyphs">High-quality data for</text>
<text x="230.5" y="299.6" font-family='"Liberation Sans", sans-serif' font-size="32.5" fill="#e8401f" stroke="#e8401f" stroke-width="0.7" textLength="236.5" lengthAdjust="spacingAndGlyphs">model training</text>
<text x="42.5" y="575.2" font-family='"Liberation Sans", sans-serif' font-size="32.5" fill="#e8401f" stroke="#e8401f" stroke-width="0.7" textLength="425.5" lengthAdjust="spacingAndGlyphs">Understanding underlying</text>
<text x="198.5" y="620.6" font-family='"Liberation Sans", sans-serif' font-size="32.5" fill="#e8401f" stroke="#e8401f" stroke-width="0.7" textLength="123.5" lengthAdjust="spacingAndGlyphs">physics</text>
<text x="1591.5" y="487.6" font-family='"Liberation Sans", sans-serif' font-size="32.5" fill="#e8401f" stroke="#e8401f" stroke-width="0.7" textLength="374.5" lengthAdjust="spacingAndGlyphs">Domain knowledge for</text>
<text x="1620.5" y="533" font-family='"Liberation Sans", sans-serif' font-size="32.5" fill="#e8401f" stroke="#e8401f" stroke-width="0.7" textLength="321.5" lengthAdjust="spacingAndGlyphs">feature engineering</text>
<text x="1580.1" y="937.8" font-family='"Liberation Sans", sans-serif' font-size="32.5" fill="#e8401f" stroke="#e8401f" stroke-width="0.7" textLength="386.9" lengthAdjust="spacingAndGlyphs">Symbolic regression for</text>
<text x="1622.1" y="983" font-family='"Liberation Sans", sans-serif' font-size="32.5" fill="#e8401f" stroke="#e8401f" stroke-width="0.7" textLength="310.9" lengthAdjust="spacingAndGlyphs">equation discovery</text>
<path fill="#245e57" d="M574.1,344.1 L598.8,338.4 L612.9,338.4 L612.9,424 L634.7,424 L634.7,437.9 L574.1,437.9 L574.1,424 L596.1,424 L596.1,354.9 L574.7,354.9 Z"/>
<path fill="none" stroke="#245e57" stroke-width="16.5" d="M1469.25,292.5 L1469.25,287.5 A24.75,24.75 0 0 1 1518.75,287.5 C1518.75,302 1511,310 1502,318 L1469,347"/>
<rect x="1461" y="341.2" width="67.8" height="15.6" fill="#245e57"/>
<path fill="none" stroke="#245e57" stroke-width="19" d="M1198,735 A30.5,26.5 0 0 1 1259,733 C1259,750 1245,759 1228,759 L1216,759 M1216,759 L1228,759 C1248,759 1260.5,770 1260.5,786 A32.5,29 0 0 1 1195.5,786"/>
<path fill="#245e57" fill-rule="evenodd" d="M714.3,832.8 L736.3,832.8 L736.3,909.9 L749.1,909.9 L749.1,928 L736.3,928 L736.3,954.8 L716.8,954.8 L716.8,928 L658,928 L658,912.2 Z M716.8,860.8 L681.7,909.9 L716.8,909.9 Z"/>
<rect x="584" y="130" width="169" height="119.5" fill="#cc0000"/>
<text x="596" y="164" font-family='"Liberation Serif", serif' font-size="30" fill="#fff" textLength="107" lengthAdjust="spacingAndGlyphs" font-weight="bold" stroke="#fff" stroke-width="0.5">178 data</text>
<text x="596" y="200" font-family='"Liberation Serif", serif' font-size="30" fill="#fff" textLength="119" lengthAdjust="spacingAndGlyphs" font-weight="bold" stroke="#fff" stroke-width="0.5">23 metals</text>
<text x="596" y="235" font-family='"Liberation Serif", serif' font-size="30" fill="#fff" textLength="116" lengthAdjust="spacingAndGlyphs" font-weight="bold" stroke="#fff" stroke-width="0.5">26 oxides</text>
<text x="669" y="280.8" font-family='"Liberation Sans", sans-serif' font-size="20.4" fill="#1c0f0f" textLength="272" lengthAdjust="spacingAndGlyphs" stroke="#1c0f0f" stroke-width="0.35">Metal-support interaction</text>
<text x="731" y="319.7" font-family='"Liberation Sans", sans-serif' font-size="33" fill="#d9560a" textLength="85.5" lengthAdjust="spacingAndGlyphs" font-weight="bold">Metal</text>
<defs><linearGradient id="slabF" x1="0" y1="0" x2="1" y2="0"><stop offset="0" stop-color="#8ea6ba"/><stop offset="0.5" stop-color="#b8cde0"/><stop offset="1" stop-color="#8ea6ba"/></linearGradient><radialGradient id="dome" cx="0.55" cy="0.75" r="0.7"><stop offset="0" stop-color="#ff8a7a"/><stop offset="0.6" stop-color="#f07a6a"/><stop offset="1" stop-color="#b86558"/></radialGradient></defs>
<path d="M695,388 L739,439 L1024.5,392 L1024.5,403 L739,447 L695,394 Z" fill="url(#slabF)"/>
<path d="M695,388 L950,342 L1024.5,392 L739,439 Z" fill="#bcd1e1"/>
<path d="M799.5,392 C799.5,350 822,326.5 849,326.5 C876,326.5 898.5,350 898.5,392 C880,398 818,398 799.5,392 Z" fill="url(#dome)"/>
<text x="843" y="364.7" font-family='"Liberation Serif", serif' font-size="30" fill="#111" textLength="25" lengthAdjust="spacingAndGlyphs">M</text>
<text x="715" y="431" font-family='"Liberation Sans", sans-serif' font-size="33" fill="#d9560a" textLength="130.6" lengthAdjust="spacingAndGlyphs" font-weight="bold">Support</text>
<text x="936.7" y="380.5" font-family='"Liberation Serif", serif' font-size="33" fill="#111" textLength="50" lengthAdjust="spacingAndGlyphs">MO</text>
<rect x="938" y="353" width="20" height="2" fill="#111"/>
<text x="986" y="387" font-family='"Liberation Serif", serif' font-size="20" fill="#111" font-weight="bold">x</text>
<ellipse cx="895" cy="398.5" rx="9" ry="10.5" fill="none" stroke="#111" stroke-width="2.2"/>
<line x1="902" y1="408" x2="930" y2="462" stroke="#111" stroke-width="1.8"/>
<text x="934" y="494" font-family='"Liberation Serif", serif' font-size="33" fill="#111" font-style="italic">E</text>
<text x="959" y="500.8" font-family='"Liberation Serif", serif' font-size="19" fill="#111" textLength="34" lengthAdjust="spacingAndGlyphs" font-weight="bold">adh</text>
<path d="M1257,293 L1280,352.7 L1359,352.7 L1342.5,297.5 L1326,268 L1288,239 Z" fill="#29465a"/>
<path d="M1300,262 L1330,272 L1345,300 L1352,340 L1320,345 L1305,300 Z" fill="#4d6f85"/>
<rect x="1281.0" y="312" width="14" height="3" fill="#8fb4cc"/>
<rect x="1282.5" y="319" width="14" height="3" fill="#8fb4cc"/>
<rect x="1284.0" y="326" width="14" height="3" fill="#8fb4cc"/>
<rect x="1285.5" y="333" width="14" height="3" fill="#8fb4cc"/>
<rect x="1287.0" y="340" width="14" height="3" fill="#8fb4cc"/>
<rect x="1288.5" y="347" width="14" height="3" fill="#8fb4cc"/>
<rect x="1312" y="300" width="22" height="4" fill="#a9bdc8"/>
<rect x="1314" y="310" width="22" height="4" fill="#a9bdc8"/>
<rect x="1316" y="320" width="22" height="4" fill="#a9bdc8"/>
<rect x="1318" y="330" width="22" height="4" fill="#a9bdc8"/>
<circle cx="1305" cy="276" r="5" fill="#3b5a6e" stroke="#9cc" stroke-width="1"/>
<path d="M1296,352.7 C1312,338 1335,328 1358,326 L1362,352.7 Z" fill="#f4f4f2"/>
<path d="M1298,348 C1314,336 1336,329 1357,327" fill="none" stroke="#e08a30" stroke-width="2"/>
<path d="M1292.5,132 C1275,133 1252,140 1238,149.6 C1225,158 1211,178 1205,197.5 L1202,210 L1201,216 L1200,226.7 L1194.6,235 L1186,249.6 L1188,256 L1199,260 L1197.7,268 L1203,274.6 L1202,281 L1207,291 L1215.4,301.7 L1242.5,303.75 L1263,297.5 L1284,243 L1301,226.7 L1300,150 Z" fill="#5283a0"/>
<path d="M1215,300 L1242,303 L1262,298 L1270,280 L1262,262 L1240,258 L1222,268 Z" fill="#4a7a96"/>
<path d="M1236,150 C1222,160 1210,180 1205,198" fill="none" stroke="#1b3242" stroke-width="3"/>
<path d="M1240,146 C1255,138 1275,133 1292,132" fill="none" stroke="#2fb8d0" stroke-width="2"/>
<path d="M1228,252 C1240,248 1252,252 1266,248 M1230,262 C1242,258 1254,262 1266,258 M1232,272 C1244,268 1256,272 1266,268" fill="none" stroke="#8fb0c4" stroke-width="1.2"/>
<path d="M1257,296 C1268,275 1276,258 1290,245" fill="none" stroke="#1b3242" stroke-width="3"/>
<path d="M1203,214 C1210,212 1216,214 1222,218 M1208,224 L1218,226" stroke="#1b3242" stroke-width="1.8" fill="none"/>
<path d="M1212,226 C1214,236 1214,246 1212,256" stroke="#9aa8b0" stroke-width="2" fill="none"/>
<circle cx="1288" cy="243" r="6" fill="none" stroke="#2fb8d0" stroke-width="2"/>
<path d="M1228,178.75 C1230,165 1236,155 1242.5,151.7 C1252,144 1260,141 1269.6,140 C1280,139 1290,140 1298.75,143.3 L1301,193 L1273.75,220.4 C1262,222 1250,221 1242.5,218.3 C1232,212 1226,205 1226,197.5 Z" fill="#f2a530"/>
<path d="M1301,141 C1310,139 1318,138 1326,139 C1338,142 1346,148 1353,156 C1362,165 1368,174 1371.7,183 C1376,194 1379,202 1378,210 C1376,218 1372,223 1367.5,226.7 C1360,233 1356,236 1351,239 C1340,242 1328,244 1315.4,243 C1302,241 1292,238 1284,235 C1276,232 1270,230 1265.4,226.7 C1262,220 1264,212 1269.6,206 C1276,200 1282,196 1288,193 L1301,185 Z" fill="#eef0ea"/>
<path d="M1262,224 C1266,212 1278,204 1292,206 C1304,200 1320,204 1328,212 C1340,210 1352,214 1358,222 C1352,234 1338,242 1315,243 C1295,242 1275,236 1262,224 Z" fill="#e3e8e0"/>
<ellipse cx="1333" cy="250.5" rx="30" ry="14" fill="#f0a02a"/>
<path d="M1308,248 C1320,244 1340,246 1358,250 M1310,256 C1325,252 1342,254 1356,258" fill="none" stroke="#c87818" stroke-width="1.2"/>
<path d="M1238,165 C1246,158 1254,170 1262,160 C1270,152 1278,166 1290,156 M1232,188 C1242,180 1250,194 1262,184 C1272,176 1282,190 1296,178 M1240,208 C1250,200 1262,212 1274,202 M1270,150 C1274,160 1268,170 1276,178 M1252,186 C1256,196 1250,204 1256,212" fill="none" stroke="#203648" stroke-width="1.8"/>
<path d="M1260.1,190.8 Q1256.3,188.5 1254.5,193.3 Q1252.1,190.6 1250.7,194.9 Q1253.7,194.7 1251.5,200.5 M1266.9,201.7 Q1273.5,197.8 1272.5,201.2 Q1270.9,200.4 1275.0,205.7 Q1275.7,208.0 1281.5,208.9 M1255.3,170.2 Q1252.0,173.5 1253.3,174.0 Q1253.4,176.2 1252.1,179.1 Q1255.1,180.3 1254.9,185.7 M1249.6,173.8 Q1256.0,170.6 1254.8,173.5 Q1255.3,172.3 1261.4,171.3 Q1262.8,168.7 1260.0,164.8 M1272.8,172.0 Q1272.4,171.6 1272.6,165.7 Q1276.8,161.7 1278.4,164.6 Q1285.3,168.6 1284.3,167.5 M1261.0,197.3 Q1255.8,195.5 1255.8,199.9 Q1253.9,201.3 1258.0,206.7 Q1256.9,209.2 1262.5,212.6 M1244.1,174.8 Q1246.0,173.7 1249.2,174.9 Q1247.6,176.0 1251.6,182.4 Q1253.8,184.0 1256.1,184.3 M1263.9,183.6 Q1265.6,187.6 1260.1,188.6 Q1259.5,187.5 1256.0,193.6 Q1255.7,194.6 1249.4,190.8 M1253.0,192.0 Q1250.6,191.5 1255.0,195.7 Q1254.1,191.7 1260.4,195.7 Q1260.3,189.9 1262.3,191.8 M1276.3,168.0 Q1277.9,165.3 1281.6,168.7 Q1282.6,172.4 1284.1,176.3 Q1285.0,174.3 1288.5,176.0 M1268.3,173.1 Q1265.4,176.5 1268.1,179.2 Q1275.0,182.3 1274.2,179.7 Q1275.1,178.6 1278.1,182.9 M1266.2,163.8 Q1267.9,165.4 1264.5,159.2 Q1269.5,158.5 1269.5,154.0 Q1268.0,147.2 1268.8,148.0 M1275.6,184.3 Q1272.7,190.9 1270.7,190.4 Q1266.5,185.8 1264.5,185.6 Q1259.8,187.1 1259.9,186.6 M1280.5,168.4 Q1273.8,168.5 1273.8,165.9 Q1276.1,162.2 1274.5,158.8 Q1270.3,159.1 1268.8,154.5" fill="none" stroke="#22384a" stroke-width="1.5" stroke-linecap="round"/>
<path d="M1347.3,181.7 Q1342.3,176.2 1342.5,176.7 Q1341.4,175.0 1335.3,179.0 Q1333.6,175.1 1329.4,173.7 M1317.2,181.8 Q1317.4,188.5 1317.1,188.4 Q1320.4,189.7 1318.5,195.7 Q1318.5,197.9 1322.8,198.6 M1326.8,204.2 Q1325.0,207.1 1323.9,208.7 Q1324.5,208.0 1318.5,207.1 Q1311.8,205.5 1312.8,204.8 M1328.8,186.7 Q1328.6,185.0 1324.8,182.3 Q1322.3,183.8 1319.0,180.7 Q1315.2,181.5 1315.5,185.9 M1331.1,164.1 Q1329.3,161.4 1328.5,156.9 Q1329.0,153.6 1326.5,151.2 Q1329.4,149.9 1325.2,145.4 M1349.6,164.8 Q1351.3,165.7 1347.7,172.4 Q1346.6,171.9 1352.4,175.7 Q1357.1,176.6 1357.2,171.1 M1342.9,205.7 Q1342.9,204.0 1335.4,206.7 Q1334.6,207.9 1334.0,201.3 Q1335.1,199.8 1337.4,198.1 M1320.7,196.1 Q1319.3,196.5 1317.0,197.8 Q1319.0,200.4 1319.1,202.7 Q1325.2,205.6 1326.8,201.0 M1340.7,194.4 Q1338.8,196.0 1342.8,199.0 Q1338.1,198.5 1337.2,203.6 Q1336.3,198.4 1332.2,199.7 M1352.2,193.7 Q1354.3,199.9 1354.2,201.2 Q1354.5,204.0 1361.6,201.0 Q1364.7,203.9 1366.9,200.0 M1326.7,195.6 Q1322.3,193.4 1323.3,198.3 Q1321.8,203.0 1323.5,203.6 Q1322.9,204.6 1327.5,208.1 M1343.5,186.7 Q1343.1,188.8 1347.6,191.3 Q1348.8,192.5 1344.9,194.8 Q1341.8,197.8 1340.5,200.7 M1316.2,157.8 Q1313.9,156.8 1309.4,157.3 Q1304.5,154.7 1305.6,159.0 Q1300.5,154.8 1300.9,157.2 M1343.8,161.7 Q1339.8,160.5 1339.1,159.9 Q1335.1,165.5 1334.8,163.8 Q1330.6,165.3 1330.4,159.4 M1321.2,201.5 Q1324.0,198.0 1326.7,199.3 Q1326.7,195.4 1330.5,197.9 Q1328.3,195.1 1333.7,195.3 M1330.6,207.6 Q1330.5,207.8 1326.9,202.0 Q1328.6,197.7 1322.6,198.9 Q1318.3,198.4 1321.2,192.5 M1347.2,170.2 Q1349.2,168.9 1350.8,167.4 Q1356.7,169.5 1357.4,170.2 Q1358.7,171.4 1356.8,176.9 M1339.1,187.1 Q1341.6,191.2 1343.1,193.3 Q1343.6,192.6 1344.2,199.9 Q1341.7,202.7 1339.2,204.9" fill="none" stroke="#22384a" stroke-width="1.4" stroke-linecap="round"/>
<path d="M1296.3,226.1 Q1292.8,226.5 1293.0,223.3 Q1293.4,224.1 1286.3,225.0 Q1285.3,228.9 1281.5,228.5 M1284.1,223.2 Q1288.1,220.2 1288.1,220.2 Q1286.5,217.5 1291.8,218.5 Q1296.6,217.3 1298.5,219.4 M1281.9,227.4 Q1279.0,234.9 1280.9,234.9 Q1278.5,237.5 1276.8,235.0 Q1274.6,229.8 1276.2,229.3 M1311.5,226.6 Q1312.7,225.5 1306.6,230.2 Q1306.9,230.7 1301.1,227.9 Q1297.6,225.9 1294.3,231.4 M1318.7,228.1 Q1316.1,228.5 1316.0,231.8 Q1316.1,234.3 1312.1,231.3 Q1311.9,237.8 1308.4,238.0 M1296.0,233.3 Q1292.9,230.1 1292.1,228.2 Q1286.9,230.4 1288.0,227.3 Q1282.6,227.3 1281.2,230.9 M1288.4,227.7 Q1287.9,226.5 1282.5,223.1 Q1284.4,221.3 1285.6,216.0 Q1282.2,216.2 1279.7,212.4" fill="none" stroke="#e59a40" stroke-width="0.9" stroke-linecap="round"/>
<path d="M1299,145 C1296,165 1302,180 1296,195" fill="none" stroke="#1b3242" stroke-width="2.5"/>
<path d="M1310,160 C1318,150 1328,165 1336,155 C1344,148 1350,162 1358,158 M1306,182 C1316,172 1326,190 1338,178 C1348,170 1356,186 1368,180 M1322,200 C1332,192 1342,206 1352,196 C1360,190 1366,204 1374,200 M1332,145 C1338,156 1334,168 1342,176 M1356,200 C1360,210 1356,218 1362,226" fill="none" stroke="#203648" stroke-width="1.6"/>
<path d="M1272,222 C1282,214 1294,226 1306,216 C1318,208 1330,222 1346,214" fill="none" stroke="#e59a40" stroke-width="1"/>
<text x="1324.4" y="389.7" font-family='"Liberation Sans", sans-serif' font-size="20.5" fill="#1c0f0f" textLength="150.2" lengthAdjust="spacingAndGlyphs" stroke="#1c0f0f" stroke-width="0.5">Feature space</text>
<rect x="1258.6" y="404.5" width="306.1" height="31.2" fill="#e0fafc" stroke="#1fb5bd" stroke-width="1.5"/>
<text x="1377" y="427.5" font-family='"Liberation Serif", serif' font-size="17" fill="#111" textLength="70" lengthAdjust="spacingAndGlyphs" xml:space="preserve">Initial  50</text>
<rect x="1258.6" y="436.5" width="306.1" height="142" fill="#fdf2e9" stroke="#e8a315" stroke-width="2.5"/>
<line x1="1347.4" y1="436" x2="1347.4" y2="578.5" stroke="#e8a315" stroke-width="2"/>
<line x1="1258.6" y1="468.9" x2="1347.4" y2="468.9" stroke="#e8a315" stroke-width="2.8"/>
<line x1="1258.6" y1="501.4" x2="1347.4" y2="501.4" stroke="#e8a315" stroke-width="2.8"/>
<line x1="1258.6" y1="536.3" x2="1347.4" y2="536.3" stroke="#e8a315" stroke-width="2.8"/>
<rect x="1259.5" y="437" width="88" height="100" fill="none" stroke="#e8a315" stroke-width="2.5"/>
<text x="1272" y="459.7" font-family='"Liberation Serif", serif' font-size="17" fill="#111">Φ<tspan font-size="11" dy="4">0</tspan><tspan dy="-4" xml:space="preserve">  14</tspan></text>
<text x="1272" y="490.3" font-family='"Liberation Serif", serif' font-size="17" fill="#111">Φ<tspan font-size="11" dy="4">1</tspan><tspan dy="-4" xml:space="preserve">  453</tspan></text>
<text x="1272" y="523.9" font-family='"Liberation Serif", serif' font-size="17" fill="#111">Φ<tspan font-size="11" dy="4">2</tspan><tspan dy="-4" xml:space="preserve">  141k</tspan></text>
<text x="1272" y="562.2" font-family='"Liberation Serif", serif' font-size="17" fill="#111">Φ<tspan font-size="11" dy="4">3</tspan><tspan dy="-4" xml:space="preserve">  30 b</tspan></text>
<text x="1358" y="457.7" font-family='"Liberation Serif", serif' font-style="italic" fill="#222" font-size="14">χ<tspan font-size="9" dy="3">p</tspan><tspan font-size="9" dy="-9">M</tspan><tspan dy="6">, ω</tspan><tspan font-size="9" dy="3">p</tspan><tspan font-size="9" dy="-9">M</tspan><tspan dy="6">, γ</tspan><tspan font-size="9" dy="-6">M</tspan><tspan dy="6">, ΔH</tspan><tspan font-size="9" dy="3">sub</tspan><tspan font-size="9" dy="-9">M</tspan><tspan dy="6">, …</tspan></text>
<text x="1365" y="490.3" font-family='"Liberation Serif", serif' font-style="italic" fill="#222" font-size="14">ΔH<tspan font-size="9" dy="3">f</tspan><tspan font-size="9" dy="-9">MO</tspan><tspan dy="6"> − ΔH</tspan><tspan font-size="9" dy="3">sub</tspan><tspan font-size="9" dy="-9">M</tspan><tspan dy="6">, r</tspan><tspan font-size="9" dy="-6">M3</tspan><tspan dy="6">, e</tspan><tspan font-size="9" dy="-6">IEM</tspan><tspan dy="6">,</tspan></text>
<text x="1366" y="523.9" font-family='"Liberation Serif", serif' font-style="italic" fill="#222" font-size="14">γ<tspan font-size="9" dy="-6">M</tspan><tspan dy="6">/χ</tspan><tspan font-size="9" dy="3">p</tspan><tspan font-size="9" dy="-9">M</tspan><tspan dy="6"> × (ΔH</tspan><tspan font-size="9" dy="3">f</tspan><tspan font-size="9" dy="-9">MO</tspan><tspan dy="6"> − ΔH</tspan><tspan font-size="9" dy="3">sub</tspan><tspan font-size="9" dy="-9">M</tspan><tspan dy="6">), …</tspan></text>
<rect x="936" y="722" width="150" height="130" fill="#fff"/>
<defs><linearGradient id="glare" x1="0" y1="0" x2="1" y2="0.3"><stop offset="0" stop-color="#c8f2f2" stop-opacity="0.0"/><stop offset="0.55" stop-color="#e8ffff" stop-opacity="0.1"/><stop offset="0.8" stop-color="#e8ffff" stop-opacity="0.6"/><stop offset="1" stop-color="#a8e4e6" stop-opacity="0.75"/></linearGradient><radialGradient id="hl" cx="0.35" cy="0.3" r="0.6"><stop offset="0" stop-color="#fff" stop-opacity="0.55"/><stop offset="1" stop-color="#fff" stop-opacity="0"/></radialGradient></defs>
<path d="M947.5,745.1 L1000,745.1 L1000,812 L960.3,809.8 Z" fill="#3f3f41"/>
<path d="M935.8,806.9 L960.3,809.8 L1039.7,809.8 L1085.2,798.8 L1120.8,813.3 L1075.3,825.6 L1112,847.8 L1031.5,848.4 L993.6,825.6 L948.7,819.2 L935.8,813.3 Z" fill="#3f3f41"/>
<path d="M960.3,731.1 L993.6,744.5 L993.6,825.6 L960.3,809.8 Z" fill="#2c4446"/>
<path d="M960.3,731.1 L993.6,744.5 L993.6,760 L960.3,748 Z" fill="#7cc8cc" fill-opacity="0.7"/>
<path d="M960.3,809.8 L993.6,825.6 L1075.3,825.6 L1039.7,809.8 Z" fill="#a6e2e4" fill-opacity="0.8"/>
<circle cx="1016" cy="780" r="38" fill="#4f8fb0"/>
<circle cx="1000" cy="752" r="6.6" fill="#8ad6f2" stroke="#2f90c0" stroke-width="0.9"/>
<circle cx="1008" cy="749" r="6.6" fill="#dcb448" stroke="#8a6a18" stroke-width="0.9"/>
<circle cx="1016" cy="748" r="6.6" fill="#dcb448" stroke="#8a6a18" stroke-width="0.9"/>
<circle cx="1022" cy="749" r="6.6" fill="#1c7cc4" stroke="#0a4580" stroke-width="0.9"/>
<circle cx="1033" cy="750" r="6.6" fill="#d9434f" stroke="#8c1f2a" stroke-width="0.9"/>
<circle cx="1040" cy="752" r="6.6" fill="#dcb448" stroke="#8a6a18" stroke-width="0.9"/>
<circle cx="987.2" cy="762" r="6.6" fill="#d9434f" stroke="#8c1f2a" stroke-width="0.9"/>
<circle cx="997.7" cy="758.5" r="6.6" fill="#d9434f" stroke="#8c1f2a" stroke-width="0.9"/>
<circle cx="1012.8" cy="756.2" r="6.6" fill="#1c7cc4" stroke="#0a4580" stroke-width="0.9"/>
<circle cx="1025.7" cy="755" r="6.6" fill="#1c7cc4" stroke="#0a4580" stroke-width="0.9"/>
<circle cx="1043.2" cy="760.8" r="6.6" fill="#1c7cc4" stroke="#0a4580" stroke-width="0.9"/>
<circle cx="1050.2" cy="766.7" r="6.6" fill="#f5e6a4" stroke="#b8a050" stroke-width="0.9"/>
<circle cx="982.5" cy="774.8" r="6.6" fill="#dcb448" stroke="#8a6a18" stroke-width="0.9"/>
<circle cx="1003.5" cy="770.2" r="6.6" fill="#f5e6a4" stroke="#b8a050" stroke-width="0.9"/>
<circle cx="1019.8" cy="765.5" r="6.6" fill="#dcb448" stroke="#8a6a18" stroke-width="0.9"/>
<circle cx="1032.7" cy="764.3" r="6.6" fill="#8ad6f2" stroke="#2f90c0" stroke-width="0.9"/>
<circle cx="1051.4" cy="777.2" r="6.6" fill="#8ad6f2" stroke="#2f90c0" stroke-width="0.9"/>
<circle cx="979" cy="781.8" r="6.6" fill="#f5e6a4" stroke="#b8a050" stroke-width="0.9"/>
<circle cx="990.7" cy="785.3" r="6.6" fill="#1c7cc4" stroke="#0a4580" stroke-width="0.9"/>
<circle cx="1011.7" cy="774.8" r="6.6" fill="#d9434f" stroke="#8c1f2a" stroke-width="0.9"/>
<circle cx="1026.9" cy="773.7" r="6.6" fill="#1c7cc4" stroke="#0a4580" stroke-width="0.9"/>
<circle cx="1039.7" cy="773.7" r="6.6" fill="#d9434f" stroke="#8c1f2a" stroke-width="0.9"/>
<circle cx="1007" cy="784.2" r="6.6" fill="#dcb448" stroke="#8a6a18" stroke-width="0.9"/>
<circle cx="1019.8" cy="781.8" r="6.6" fill="#dcb448" stroke="#8a6a18" stroke-width="0.9"/>
<circle cx="1028" cy="787.7" r="6.6" fill="#8ad6f2" stroke="#2f90c0" stroke-width="0.9"/>
<circle cx="1045.5" cy="786.5" r="6.6" fill="#1c7cc4" stroke="#0a4580" stroke-width="0.9"/>
<circle cx="1035" cy="785.3" r="6.6" fill="#f5e6a4" stroke="#b8a050" stroke-width="0.9"/>
<circle cx="984.8" cy="792.3" r="6.6" fill="#8ad6f2" stroke="#2f90c0" stroke-width="0.9"/>
<circle cx="1000" cy="792.3" r="6.6" fill="#d9434f" stroke="#8c1f2a" stroke-width="0.9"/>
<circle cx="1014" cy="791.2" r="6.6" fill="#f5e6a4" stroke="#b8a050" stroke-width="0.9"/>
<circle cx="986" cy="800.5" r="6.6" fill="#f5e6a4" stroke="#b8a050" stroke-width="0.9"/>
<circle cx="993" cy="800.5" r="6.6" fill="#1c7cc4" stroke="#0a4580" stroke-width="0.9"/>
<circle cx="1032.7" cy="794.7" r="6.6" fill="#d9434f" stroke="#8c1f2a" stroke-width="0.9"/>
<circle cx="1021" cy="798.2" r="6.6" fill="#1c7cc4" stroke="#0a4580" stroke-width="0.9"/>
<circle cx="1008.2" cy="801.7" r="6.6" fill="#1c7cc4" stroke="#0a4580" stroke-width="0.9"/>
<circle cx="1042" cy="795.8" r="6.6" fill="#d9434f" stroke="#8c1f2a" stroke-width="0.9"/>
<circle cx="1001.2" cy="809.8" r="6.6" fill="#8ad6f2" stroke="#2f90c0" stroke-width="0.9"/>
<circle cx="1015.2" cy="809.8" r="6.6" fill="#dcb448" stroke="#8a6a18" stroke-width="0.9"/>
<circle cx="1026.9" cy="805.2" r="6.6" fill="#8ad6f2" stroke="#2f90c0" stroke-width="0.9"/>
<circle cx="1038.5" cy="804" r="6.6" fill="#1c7cc4" stroke="#0a4580" stroke-width="0.9"/>
<path d="M993.6,744.5 L1075.3,744.5 L1075.3,825.6 L993.6,825.6 Z" fill="url(#glare)"/>
<path d="M960.3,731.1 L1039.1,731.1 L1075.3,744.5 L993.6,744.5 Z" fill="#bdeeee" fill-opacity="0.75"/>
<path d="M1039.7,809.8 L1075.3,825.6 L1075.3,797 Z" fill="#2c4446" fill-opacity="0.85"/>
<path d="M960.3,731.1 L1039.1,731.1 L1075.3,744.5 L1075.3,825.6 L993.6,825.6 L960.3,809.8 Z M960.3,731.1 L993.6,744.5 L1075.3,744.5 M993.6,744.5 L993.6,825.6 M1039.1,731.1 L1039.1,745" fill="none" stroke="#c8f8f8" stroke-width="1"/>
<defs><radialGradient id="bulb" cx="0.45" cy="0.4" r="0.6"><stop offset="0" stop-color="#fffdf0"/><stop offset="0.6" stop-color="#f9e4a6"/><stop offset="1" stop-color="#f0c468"/></radialGradient></defs>
<path d="M1099,738 C1095,730 1097,718.8 1109.7,718.8 C1122,718.8 1124.5,730 1120.5,738 C1118,743 1115.5,746 1115.5,752 L1104,752 C1104,746 1101.5,743 1099,738 Z" fill="url(#bulb)" stroke="#f0b050" stroke-width="0.8"/>
<rect x="1104.4" y="752" width="10.5" height="8.8" rx="2.5" fill="#8a8a8a"/>
<path d="M1105,755 L1114,755 M1105,758 L1114,758" stroke="#bbb" stroke-width="0.8"/>
<line x1="1109.7" y1="714" x2="1109.7" y2="708" stroke="#f8c680" stroke-width="1.6" stroke-linecap="round"/>
<line x1="1097" y1="719" x2="1093" y2="715" stroke="#f8c680" stroke-width="1.6" stroke-linecap="round"/>
<line x1="1122.5" y1="719" x2="1126.5" y2="715" stroke="#f8c680" stroke-width="1.6" stroke-linecap="round"/>
<line x1="1093" y1="730" x2="1086.5" y2="730" stroke="#f8c680" stroke-width="1.6" stroke-linecap="round"/>
<line x1="1126.5" y1="730" x2="1133" y2="730" stroke="#f8c680" stroke-width="1.6" stroke-linecap="round"/>
<line x1="1096" y1="741" x2="1092" y2="745" stroke="#f8c680" stroke-width="1.6" stroke-linecap="round"/>
<line x1="1123.5" y1="741" x2="1127.5" y2="745" stroke="#f8c680" stroke-width="1.6" stroke-linecap="round"/>
<text x="924" y="884.1" font-family='"Liberation Sans", sans-serif' font-size="22" fill="#1c0f0f" textLength="205.7" lengthAdjust="spacingAndGlyphs" stroke="#1c0f0f" stroke-width="0.45">Equation discovery</text>
<rect x="1168.1" y="848.1" width="14.9" height="80.3" rx="1.5" fill="#403b3b"/>
<rect x="1172" y="852.2" width="7" height="5.6" fill="#7aa0b8"/>
<rect x="1172" y="861.7" width="7" height="5.6" fill="#e8001c"/>
<rect x="1172" y="871.1" width="7" height="5.6" fill="#a8f0c8"/>
<rect x="1172" y="880.6" width="7" height="5.6" fill="#b8d890"/>
<rect x="1172" y="890.0" width="7" height="5.6" fill="#30c0d0"/>
<rect x="1172" y="899.5" width="7" height="5.6" fill="#e8001c"/>
<rect x="1172" y="908.9" width="7" height="5.6" fill="#a8f8f0"/>
<rect x="1172" y="918.4" width="7" height="5.6" fill="#e8001c"/>
<rect x="1189.7" y="883.6" width="23.2" height="2.4" fill="#111"/><rect x="1189.7" y="889.6" width="23.2" height="2.4" fill="#111"/>
<rect x="1220.75" y="848.1" width="172.15" height="80.3" rx="1.5" fill="#403b3b"/>
<rect x="1224.80" y="852.20" width="9.9" height="5.6" fill="#f8dcb0"/>
<rect x="1235.07" y="852.20" width="9.9" height="5.6" fill="#c8f080"/>
<rect x="1245.34" y="852.20" width="9.9" height="5.6" fill="#d8b878"/>
<rect x="1255.61" y="852.20" width="9.9" height="5.6" fill="#e8001c"/>
<rect x="1265.88" y="852.20" width="9.9" height="5.6" fill="#00b8f0"/>
<rect x="1276.15" y="852.20" width="9.9" height="5.6" fill="#f8b0b8"/>
<rect x="1286.42" y="852.20" width="9.9" height="5.6" fill="#e07068"/>
<rect x="1296.69" y="852.20" width="9.9" height="5.6" fill="#f8e000"/>
<rect x="1306.96" y="852.20" width="9.9" height="5.6" fill="#e8001c"/>
<rect x="1317.23" y="852.20" width="9.9" height="5.6" fill="#a8f0f0"/>
<rect x="1327.50" y="852.20" width="9.9" height="5.6" fill="#f89860"/>
<rect x="1337.77" y="852.20" width="9.9" height="5.6" fill="#e0b0f0"/>
<rect x="1348.04" y="852.20" width="9.9" height="5.6" fill="#a8f0c8"/>
<rect x="1358.31" y="852.20" width="9.9" height="5.6" fill="#f06080"/>
<rect x="1368.58" y="852.20" width="9.9" height="5.6" fill="#f8f0f0"/>
<rect x="1378.85" y="852.20" width="9.9" height="5.6" fill="#30c0d8"/>
<rect x="1224.80" y="861.65" width="9.9" height="5.6" fill="#e8001c"/>
<rect x="1235.07" y="861.65" width="9.9" height="5.6" fill="#a8b8c8"/>
<rect x="1245.34" y="861.65" width="9.9" height="5.6" fill="#f8b0e8"/>
<rect x="1255.61" y="861.65" width="9.9" height="5.6" fill="#e0b0f0"/>
<rect x="1265.88" y="861.65" width="9.9" height="5.6" fill="#f8b0b8"/>
<rect x="1276.15" y="861.65" width="9.9" height="5.6" fill="#f8f0f0"/>
<rect x="1286.42" y="861.65" width="9.9" height="5.6" fill="#f8e860"/>
<rect x="1296.69" y="861.65" width="9.9" height="5.6" fill="#f8f090"/>
<rect x="1306.96" y="861.65" width="9.9" height="5.6" fill="#f8dcb0"/>
<rect x="1317.23" y="861.65" width="9.9" height="5.6" fill="#e07068"/>
<rect x="1327.50" y="861.65" width="9.9" height="5.6" fill="#00b8f0"/>
<rect x="1337.77" y="861.65" width="9.9" height="5.6" fill="#70b8f0"/>
<rect x="1348.04" y="861.65" width="9.9" height="5.6" fill="#30c0d8"/>
<rect x="1358.31" y="861.65" width="9.9" height="5.6" fill="#3080c8"/>
<rect x="1368.58" y="861.65" width="9.9" height="5.6" fill="#f84060"/>
<rect x="1378.85" y="861.65" width="9.9" height="5.6" fill="#b0c0d0"/>
<rect x="1224.80" y="871.10" width="9.9" height="5.6" fill="#20b070"/>
<rect x="1235.07" y="871.10" width="9.9" height="5.6" fill="#30c8c8"/>
<rect x="1245.34" y="871.10" width="9.9" height="5.6" fill="#c8f080"/>
<rect x="1255.61" y="871.10" width="9.9" height="5.6" fill="#a8f0c8"/>
<rect x="1265.88" y="871.10" width="9.9" height="5.6" fill="#a8f0f0"/>
<rect x="1276.15" y="871.10" width="9.9" height="5.6" fill="#e8001c"/>
<rect x="1286.42" y="871.10" width="9.9" height="5.6" fill="#7890b0"/>
<rect x="1296.69" y="871.10" width="9.9" height="5.6" fill="#f8b0b8"/>
<rect x="1306.96" y="871.10" width="9.9" height="5.6" fill="#f8e000"/>
<rect x="1317.23" y="871.10" width="9.9" height="5.6" fill="#d8b878"/>
<rect x="1327.50" y="871.10" width="9.9" height="5.6" fill="#f89860"/>
<rect x="1337.77" y="871.10" width="9.9" height="5.6" fill="#e8001c"/>
<rect x="1348.04" y="871.10" width="9.9" height="5.6" fill="#7870c0"/>
<rect x="1358.31" y="871.10" width="9.9" height="5.6" fill="#e0b0f0"/>
<rect x="1368.58" y="871.10" width="9.9" height="5.6" fill="#f8b0e8"/>
<rect x="1378.85" y="871.10" width="9.9" height="5.6" fill="#30c8c8"/>
<rect x="1224.80" y="880.55" width="9.9" height="5.6" fill="#f8e000"/>
<rect x="1235.07" y="880.55" width="9.9" height="5.6" fill="#f8f080"/>
<rect x="1245.34" y="880.55" width="9.9" height="5.6" fill="#f8e860"/>
<rect x="1255.61" y="880.55" width="9.9" height="5.6" fill="#f8b0e8"/>
<rect x="1265.88" y="880.55" width="9.9" height="5.6" fill="#e07098"/>
<rect x="1276.15" y="880.55" width="9.9" height="5.6" fill="#f86018"/>
<rect x="1286.42" y="880.55" width="9.9" height="5.6" fill="#f89860"/>
<rect x="1296.69" y="880.55" width="9.9" height="5.6" fill="#f8dcb0"/>
<rect x="1306.96" y="880.55" width="9.9" height="5.6" fill="#30c8c8"/>
<rect x="1317.23" y="880.55" width="9.9" height="5.6" fill="#70b8f0"/>
<rect x="1327.50" y="880.55" width="9.9" height="5.6" fill="#00b8f0"/>
<rect x="1337.77" y="880.55" width="9.9" height="5.6" fill="#c8f080"/>
<rect x="1348.04" y="880.55" width="9.9" height="5.6" fill="#20b070"/>
<rect x="1358.31" y="880.55" width="9.9" height="5.6" fill="#3080c8"/>
<rect x="1368.58" y="880.55" width="9.9" height="5.6" fill="#2c6098"/>
<rect x="1378.85" y="880.55" width="9.9" height="5.6" fill="#7870c0"/>
<rect x="1224.80" y="890.00" width="9.9" height="5.6" fill="#70b8f0"/>
<rect x="1235.07" y="890.00" width="9.9" height="5.6" fill="#30c8c8"/>
<rect x="1245.34" y="890.00" width="9.9" height="5.6" fill="#3080c8"/>
<rect x="1255.61" y="890.00" width="9.9" height="5.6" fill="#2c6098"/>
<rect x="1265.88" y="890.00" width="9.9" height="5.6" fill="#70b8f0"/>
<rect x="1276.15" y="890.00" width="9.9" height="5.6" fill="#00b8f0"/>
<rect x="1286.42" y="890.00" width="9.9" height="5.6" fill="#f8f090"/>
<rect x="1296.69" y="890.00" width="9.9" height="5.6" fill="#f8e000"/>
<rect x="1306.96" y="890.00" width="9.9" height="5.6" fill="#e07068"/>
<rect x="1317.23" y="890.00" width="9.9" height="5.6" fill="#e0b0f0"/>
<rect x="1327.50" y="890.00" width="9.9" height="5.6" fill="#f8b0e8"/>
<rect x="1337.77" y="890.00" width="9.9" height="5.6" fill="#f84060"/>
<rect x="1348.04" y="890.00" width="9.9" height="5.6" fill="#e8001c"/>
<rect x="1358.31" y="890.00" width="9.9" height="5.6" fill="#f06080"/>
<rect x="1368.58" y="890.00" width="9.9" height="5.6" fill="#f86018"/>
<rect x="1378.85" y="890.00" width="9.9" height="5.6" fill="#f8d020"/>
<rect x="1224.80" y="899.45" width="9.9" height="5.6" fill="#f89860"/>
<rect x="1235.07" y="899.45" width="9.9" height="5.6" fill="#f86018"/>
<rect x="1245.34" y="899.45" width="9.9" height="5.6" fill="#f8e000"/>
<rect x="1255.61" y="899.45" width="9.9" height="5.6" fill="#f8dcb0"/>
<rect x="1265.88" y="899.45" width="9.9" height="5.6" fill="#d8b878"/>
<rect x="1276.15" y="899.45" width="9.9" height="5.6" fill="#b0c0d0"/>
<rect x="1286.42" y="899.45" width="9.9" height="5.6" fill="#90a8c0"/>
<rect x="1296.69" y="899.45" width="9.9" height="5.6" fill="#2c6098"/>
<rect x="1306.96" y="899.45" width="9.9" height="5.6" fill="#e8001c"/>
<rect x="1317.23" y="899.45" width="9.9" height="5.6" fill="#f84060"/>
<rect x="1327.50" y="899.45" width="9.9" height="5.6" fill="#e0b0f0"/>
<rect x="1337.77" y="899.45" width="9.9" height="5.6" fill="#f06080"/>
<rect x="1348.04" y="899.45" width="9.9" height="5.6" fill="#f8d020"/>
<rect x="1358.31" y="899.45" width="9.9" height="5.6" fill="#f8e000"/>
<rect x="1368.58" y="899.45" width="9.9" height="5.6" fill="#c8f080"/>
<rect x="1378.85" y="899.45" width="9.9" height="5.6" fill="#20b070"/>
<rect x="1224.80" y="908.90" width="9.9" height="5.6" fill="#2c6098"/>
<rect x="1235.07" y="908.90" width="9.9" height="5.6" fill="#78a8c0"/>
<rect x="1245.34" y="908.90" width="9.9" height="5.6" fill="#70b8f0"/>
<rect x="1255.61" y="908.90" width="9.9" height="5.6" fill="#7870c0"/>
<rect x="1265.88" y="908.90" width="9.9" height="5.6" fill="#e0b0f0"/>
<rect x="1276.15" y="908.90" width="9.9" height="5.6" fill="#e07098"/>
<rect x="1286.42" y="908.90" width="9.9" height="5.6" fill="#e07068"/>
<rect x="1296.69" y="908.90" width="9.9" height="5.6" fill="#f89860"/>
<rect x="1306.96" y="908.90" width="9.9" height="5.6" fill="#f8e000"/>
<rect x="1317.23" y="908.90" width="9.9" height="5.6" fill="#f8f090"/>
<rect x="1327.50" y="908.90" width="9.9" height="5.6" fill="#f89860"/>
<rect x="1337.77" y="908.90" width="9.9" height="5.6" fill="#e07068"/>
<rect x="1348.04" y="908.90" width="9.9" height="5.6" fill="#f8b0e8"/>
<rect x="1358.31" y="908.90" width="9.9" height="5.6" fill="#b0c0d0"/>
<rect x="1368.58" y="908.90" width="9.9" height="5.6" fill="#3080c8"/>
<rect x="1378.85" y="908.90" width="9.9" height="5.6" fill="#30c0d8"/>
<rect x="1224.80" y="918.35" width="9.9" height="5.6" fill="#f8a0a8"/>
<rect x="1235.07" y="918.35" width="9.9" height="5.6" fill="#e07098"/>
<rect x="1245.34" y="918.35" width="9.9" height="5.6" fill="#e8001c"/>
<rect x="1255.61" y="918.35" width="9.9" height="5.6" fill="#c8f080"/>
<rect x="1265.88" y="918.35" width="9.9" height="5.6" fill="#f8e000"/>
<rect x="1276.15" y="918.35" width="9.9" height="5.6" fill="#f8e860"/>
<rect x="1286.42" y="918.35" width="9.9" height="5.6" fill="#f86018"/>
<rect x="1296.69" y="918.35" width="9.9" height="5.6" fill="#20b070"/>
<rect x="1306.96" y="918.35" width="9.9" height="5.6" fill="#70b8f0"/>
<rect x="1317.23" y="918.35" width="9.9" height="5.6" fill="#2c6098"/>
<rect x="1327.50" y="918.35" width="9.9" height="5.6" fill="#e0b0f0"/>
<rect x="1337.77" y="918.35" width="9.9" height="5.6" fill="#30c8c8"/>
<rect x="1348.04" y="918.35" width="9.9" height="5.6" fill="#e8001c"/>
<rect x="1358.31" y="918.35" width="9.9" height="5.6" fill="#f8e000"/>
<rect x="1368.58" y="918.35" width="9.9" height="5.6" fill="#e07068"/>
<rect x="1378.85" y="918.35" width="9.9" height="5.6" fill="#d8b878"/>
<rect x="1404.4" y="848" width="15.5" height="137.8" rx="1.5" fill="#403b3b"/>
<rect x="1408.5" y="852.5" width="7.2" height="5.6" fill="#f8f8f8"/>
<rect x="1408.5" y="862.0" width="7.2" height="5.6" fill="#e8001c"/>
<rect x="1408.5" y="871.6" width="7.2" height="5.6" fill="#f8f8f8"/>
<rect x="1408.5" y="881.1" width="7.2" height="5.6" fill="#e8001c"/>
<rect x="1408.5" y="890.7" width="7.2" height="5.6" fill="#f8a0a8"/>
<rect x="1408.5" y="900.2" width="7.2" height="5.6" fill="#f8f0f0"/>
<rect x="1408.5" y="909.8" width="7.2" height="5.6" fill="#f8f8f8"/>
<rect x="1408.5" y="919.4" width="7.2" height="5.6" fill="#f8f8f8"/>
<rect x="1408.5" y="928.9" width="7.2" height="5.6" fill="#f8f8f8"/>
<rect x="1408.5" y="938.5" width="7.2" height="5.6" fill="#f8f8f8"/>
<rect x="1408.5" y="948.0" width="7.2" height="5.6" fill="#f8a0a8"/>
<rect x="1408.5" y="957.5" width="7.2" height="5.6" fill="#e8001c"/>
<rect x="1408.5" y="967.1" width="7.2" height="5.6" fill="#f8d0d0"/>
<rect x="1408.5" y="976.6" width="7.2" height="5.6" fill="#f8f0f0"/>
<text x="1257.2" y="964.9" font-family='"Liberation Sans", sans-serif' font-size="21.5" fill="#1c0f0f" textLength="65.5" lengthAdjust="spacingAndGlyphs" stroke="#1c0f0f" stroke-width="0.3">SISSO</text>
<path d="M1032.8,1140.5 L1042.3,1131 L1118.3,1131 L1126,1140.5 Z" fill="#88aadd"/>
<rect x="1076.4" y="975" width="2" height="159" fill="#88aadd"/>
<rect x="1078" y="975" width="5.6" height="159" fill="#3c3c3e"/>
<rect x="1024.1" y="997.2" width="112.9" height="2" fill="#88aadd"/>
<rect x="1024.1" y="999" width="112.9" height="6.2" fill="#3c3c3e"/>
<path d="M1033.6,1142 C1050,1130 1108,1130 1124.7,1142 Z" fill="#3c3c3e"/>
<path d="M1024.1,1005 L1014.6,1046 M1024.1,1005 L1034.4,1046" stroke="#88aadd" stroke-width="1.3" fill="none"/>
<path d="M1137,1005 L1127,1046 M1137,1005 L1147.6,1046" stroke="#88aadd" stroke-width="1.3" fill="none"/>
<path d="M1004,1086 L1005,1094 M1045.9,1086 L1044.9,1094" stroke="#88aadd" stroke-width="1.2"/>
<path d="M1002,1094 L1047.9,1094 C1047.9,1102 1035,1107 1025,1107 C1015,1107 1002,1102 1002,1094 Z" fill="#3c3c3e"/>
<path d="M1004,1094 L1045.9,1094 C1043.9,1098 1033,1099 1025,1099 C1017,1099 1006,1098 1004,1094 Z" fill="#88aadd"/>
<path d="M1116.4,1086 L1117.4,1094 M1158.8,1086 L1157.8,1094" stroke="#88aadd" stroke-width="1.2"/>
<path d="M1114.4,1094 L1160.8,1094 C1160.8,1102 1147.3,1107 1137.3,1107 C1127.3,1107 1114.4,1102 1114.4,1094 Z" fill="#3c3c3e"/>
<path d="M1116.4,1094 L1158.8,1094 C1156.8,1098 1145.3,1099 1137.3,1099 C1129.3,1099 1118.4,1098 1116.4,1094 Z" fill="#88aadd"/>
<rect x="974" y="1046.2" width="95.8" height="40.3" fill="#c8d8f0" stroke="#0a70c0" stroke-width="2.2"/>
<rect x="1088.1" y="1047.3" width="107.9" height="38.4" fill="#c8d8f0" stroke="#0a70c0" stroke-width="2.2"/>
<text x="978.2" y="1073.7" font-family='"Liberation Sans", sans-serif' font-size="21.6" fill="#000" textLength="88.7" lengthAdjust="spacingAndGlyphs">Accuracy</text>
<text x="1092.7" y="1075.3" font-family='"Liberation Sans", sans-serif' font-size="21.6" fill="#000" textLength="101.3" lengthAdjust="spacingAndGlyphs">Parsimony</text>
<text x="321" y="678.2" font-family='"Liberation Sans", sans-serif' font-size="22" fill="#1c0f0f" textLength="190.5" lengthAdjust="spacingAndGlyphs" stroke="#1c0f0f" stroke-width="0.45">Manual derivation</text>
<defs><radialGradient id="paper" cx="0.72" cy="0.2" r="0.95"><stop offset="0" stop-color="#f8f8f8"/><stop offset="0.55" stop-color="#eeeeee"/><stop offset="0.85" stop-color="#dddddd"/><stop offset="1" stop-color="#cccccc"/></radialGradient><filter id="soft" x="-8%" y="-8%" width="116%" height="116%"><feGaussianBlur stdDeviation="3"/></filter><filter id="soft2" x="-20%" y="-50%" width="140%" height="200%"><feGaussianBlur stdDeviation="1.5"/></filter></defs>
<rect x="286" y="700" width="244" height="126" fill="url(#paper)" filter="url(#soft)"/>
<line x1="288" y1="697.5" x2="530" y2="697.5" stroke="#a8a8a8" stroke-width="0.8" stroke-opacity="0.8"/>
<line x1="288" y1="718" x2="530" y2="718" stroke="#a8a8a8" stroke-width="0.8" stroke-opacity="0.8"/>
<line x1="288" y1="738.7" x2="530" y2="738.7" stroke="#a8a8a8" stroke-width="0.8" stroke-opacity="0.8"/>
<line x1="288" y1="760" x2="530" y2="760" stroke="#a8a8a8" stroke-width="0.8" stroke-opacity="0.8"/>
<line x1="288" y1="781.5" x2="530" y2="781.5" stroke="#a8a8a8" stroke-width="0.8" stroke-opacity="0.8"/>
<line x1="288" y1="804.4" x2="530" y2="804.4" stroke="#a8a8a8" stroke-width="0.8" stroke-opacity="0.8"/>
<line x1="288" y1="825.8" x2="530" y2="825.8" stroke="#a8a8a8" stroke-width="0.8" stroke-opacity="0.8"/>
<text x="288" y="715" font-family='"Liberation Sans", sans-serif' font-style="italic" fill="#686868" font-size="13" textLength="222" lengthAdjust="spacingAndGlyphs"><tspan font-size="13.0" dy="0.0">E</tspan><tspan font-size="8.1" dy="3.0">adh</tspan><tspan font-size="13.0" dy="-3.0"> = −( n</tspan><tspan font-size="8.1" dy="3.0">MO</tspan><tspan font-size="13.0" dy="-3.0"> · ε</tspan><tspan font-size="8.1" dy="3.0">M-O</tspan><tspan font-size="13.0" dy="-3.0"> + n</tspan><tspan font-size="8.1" dy="3.0">M-M̄</tspan><tspan font-size="13.0" dy="-3.0"> · ε</tspan><tspan font-size="8.1" dy="3.0">MM̄</tspan><tspan font-size="13.0" dy="-3.0"> ) + δ</tspan></text>
<text x="293" y="756" font-family='"Liberation Sans", sans-serif' font-style="italic" fill="#686868" font-size="13.5" textLength="150" lengthAdjust="spacingAndGlyphs"><tspan font-size="13.5" dy="0.0">Q</tspan><tspan font-size="8.4" dy="3.0">MO</tspan><tspan font-size="13.5" dy="-3.0"> =  ΔH</tspan><tspan font-size="8.4" dy="3.0">f</tspan><tspan font-size="8.1" dy="-9.0">MO</tspan><tspan font-size="13.5" dy="6.0">  −  ΔH</tspan><tspan font-size="8.4" dy="3.0">sub</tspan><tspan font-size="8.1" dy="-9.0">M</tspan></text>
<text x="290" y="778" font-family='"Liberation Sans", sans-serif' font-style="italic" fill="#686868" font-size="13.5" textLength="210" lengthAdjust="spacingAndGlyphs"><tspan font-size="13.5" dy="0.0">Q</tspan><tspan font-size="8.4" dy="3.0">MM̄</tspan><tspan font-size="13.5" dy="-3.0"> = ΔH</tspan><tspan font-size="8.4" dy="3.0">f</tspan><tspan font-size="8.1" dy="-9.0">MM̄</tspan><tspan font-size="13.5" dy="6.0"> − ΔH</tspan><tspan font-size="8.4" dy="3.0">sub</tspan><tspan font-size="8.1" dy="-9.0">M</tspan><tspan font-size="13.5" dy="6.0"> − ΔH</tspan><tspan font-size="8.4" dy="3.0">sub</tspan><tspan font-size="8.1" dy="-9.0">M̄</tspan></text>
<text x="288" y="822.6" font-family='"Liberation Sans", sans-serif' font-style="italic" fill="#686868" font-size="13.5" textLength="214" lengthAdjust="spacingAndGlyphs"><tspan font-size="13.5" dy="0.0">E</tspan><tspan font-size="8.4" dy="3.0">adh</tspan><tspan font-size="13.5" dy="-3.0"> =  α</tspan><tspan font-size="8.4" dy="3.0">1</tspan><tspan font-size="13.5" dy="-3.0"> · Q</tspan><tspan font-size="8.4" dy="3.0">MO</tspan><tspan font-size="13.5" dy="-3.0"> + α</tspan><tspan font-size="8.4" dy="3.0">2</tspan><tspan font-size="13.5" dy="-3.0"> · Q</tspan><tspan font-size="8.4" dy="3.0">MM̄</tspan><tspan font-size="13.5" dy="-3.0"> + α</tspan><tspan font-size="8.4" dy="3.0">0</tspan></text>
<path d="M375.5,721 L375.5,733 M379.5,721 L379.5,733 M371.5,729 L377.5,736 L383.5,729" fill="none" stroke="#6a6a6a" stroke-width="1"/>
<path d="M373,787 L373,799 M377,787 L377,799 M369,795 L375,802 L381,795" fill="none" stroke="#6a6a6a" stroke-width="1"/>
<path d="M488,800 L528,803 C533,806 533,817 526,823 L498,810 Z" fill="#1a1a1a" filter="url(#soft2)"/>
<path d="M474,797.3 L489,798.5 L497,801 L490,804 Z" fill="#9a9a9a"/>
<path d="M474,797.3 L484,799.5" stroke="#444" stroke-width="1"/>
<path d="M435.6,968 L435.6,884" fill="none" stroke="#e83a1e" stroke-width="9" stroke-linecap="round"/>
<path d="M439.5,876 L431.5,880 L413.5,903 C411,908 413,912 418,912.5 L434,912.5 Z" fill="#e83a1e" stroke="#e83a1e" stroke-width="2" stroke-linejoin="round"/>
<path d="M452,880 L452,966" fill="none" stroke="#e83a1e" stroke-width="9.5" stroke-linecap="round"/>
<path d="M447.5,972 L456,969 L472,948 C475,943 473,939 468,938.5 L456.5,938.5 Z" fill="#e83a1e" stroke="#e83a1e" stroke-width="2" stroke-linejoin="round"/>
<text x="500" y="985" font-family='"Liberation Sans", sans-serif' font-size="21" fill="#1c0f0f" textLength="133.4" lengthAdjust="spacingAndGlyphs" stroke="#1c0f0f" stroke-width="0.4">ML-equation</text>
<rect x="258.3" y="1010.4" width="471" height="126.7" rx="16" fill="none" stroke="#809fbe" stroke-width="4.4"/>
<text x="270.8" y="1074.4" font-family='"Liberation Serif", serif' font-size="35" font-weight="bold" font-style="italic" fill="#000">E</text>
<text x="294" y="1084" font-family='"Liberation Serif", serif' font-size="35" fill="#000" textLength="48" lengthAdjust="spacingAndGlyphs">adh</text>
<text x="353" y="1072" font-family='"Liberation Serif", serif' font-size="26" fill="#777" textLength="17" lengthAdjust="spacingAndGlyphs">=</text>
<text x="377" y="1074" font-family='"Liberation Serif", serif' font-size="37" font-weight="bold" font-style="italic" fill="#000">β</text>
<text x="397.5" y="1084" font-family='"Liberation Serif", serif' font-size="35" fill="#000">1</text>
<text x="416" y="1074" font-family='"Liberation Serif", serif' font-size="35" font-weight="bold" font-style="italic" fill="#000">Q</text>
<text x="442.3" y="1083" font-family='"Liberation Serif", serif' font-size="33" fill="#000" textLength="46.7" lengthAdjust="spacingAndGlyphs">MO</text>
<text x="501" y="1072" font-family='"Liberation Serif", serif' font-size="26" fill="#777" textLength="18.5" lengthAdjust="spacingAndGlyphs">+</text>
<text x="526" y="1074" font-family='"Liberation Serif", serif' font-size="37" font-weight="bold" font-style="italic" fill="#000">β</text>
<text x="545" y="1084" font-family='"Liberation Serif", serif' font-size="35" fill="#000">2</text>
<text x="564" y="1074" font-family='"Liberation Serif", serif' font-size="35" font-weight="bold" font-style="italic" fill="#000">Q</text>
<text x="589.5" y="1086.7" font-family='"Liberation Serif", serif' font-size="33" fill="#000" textLength="62.5" lengthAdjust="spacingAndGlyphs">MM</text>
<rect x="621" y="1061" width="31" height="2" fill="#000"/>
<text x="660.4" y="1072" font-family='"Liberation Serif", serif' font-size="26" fill="#777" textLength="18.5" lengthAdjust="spacingAndGlyphs">+</text>
<text x="685" y="1074" font-family='"Liberation Serif", serif' font-size="37" font-weight="bold" font-style="italic" fill="#000">β</text>
<text x="706" y="1084" font-family='"Liberation Serif", serif' font-size="35" fill="#000">0</text>
</svg>
</body></html>
